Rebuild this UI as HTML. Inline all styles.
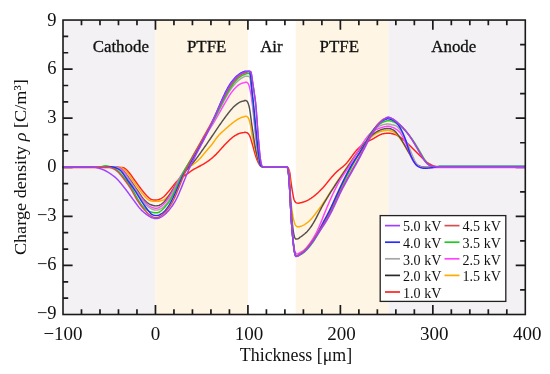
<!DOCTYPE html>
<html><head><meta charset="utf-8"><style>
html,body{margin:0;padding:0;background:#fff;}
svg{display:block;}
text{font-family:"Liberation Serif","DejaVu Serif",serif;fill:#111;}
.b{stroke:#111;stroke-width:0.3px;}
</style></head><body>
<svg width="550" height="374" viewBox="0 0 550 374">
<rect x="63.0" y="20.05" width="92.4" height="294.45" fill="#f3f1f3"/><rect x="155.4" y="20.05" width="92.69999999999999" height="294.45" fill="#fef5e4"/><rect x="248.1" y="20.05" width="47.70000000000002" height="294.45" fill="#ffffff"/><rect x="295.8" y="20.05" width="92.59999999999997" height="294.45" fill="#fef5e4"/><rect x="388.4" y="20.05" width="136.89999999999998" height="294.45" fill="#f3f1f3"/>
<g font-size="16.9" text-anchor="middle" class="b">
<text x="120.8" y="52">Cathode</text>
<text x="206.7" y="52">PTFE</text>
<text x="271.4" y="52">Air</text>
<text x="339.3" y="52">PTFE</text>
<text x="453.8" y="52">Anode</text>
</g>
<path d="M81.49,314.50L81.49,309.30M81.49,20.05L81.49,25.25M99.98,314.50L99.98,309.30M99.98,20.05L99.98,25.25M118.48,314.50L118.48,309.30M118.48,20.05L118.48,25.25M136.97,314.50L136.97,309.30M136.97,20.05L136.97,25.25M155.46,314.50L155.46,304.90M155.46,20.05L155.46,29.65M173.95,314.50L173.95,309.30M173.95,20.05L173.95,25.25M192.44,314.50L192.44,309.30M192.44,20.05L192.44,25.25M210.94,314.50L210.94,309.30M210.94,20.05L210.94,25.25M229.43,314.50L229.43,309.30M229.43,20.05L229.43,25.25M247.92,314.50L247.92,304.90M247.92,20.05L247.92,29.65M266.41,314.50L266.41,309.30M266.41,20.05L266.41,25.25M284.90,314.50L284.90,309.30M284.90,20.05L284.90,25.25M303.40,314.50L303.40,309.30M303.40,20.05L303.40,25.25M321.89,314.50L321.89,309.30M321.89,20.05L321.89,25.25M340.38,314.50L340.38,304.90M340.38,20.05L340.38,29.65M358.87,314.50L358.87,309.30M358.87,20.05L358.87,25.25M377.36,314.50L377.36,309.30M377.36,20.05L377.36,25.25M395.86,314.50L395.86,309.30M395.86,20.05L395.86,25.25M414.35,314.50L414.35,309.30M414.35,20.05L414.35,25.25M432.84,314.50L432.84,304.90M432.84,20.05L432.84,29.65M451.33,314.50L451.33,309.30M451.33,20.05L451.33,25.25M469.82,314.50L469.82,309.30M469.82,20.05L469.82,25.25M488.32,314.50L488.32,309.30M488.32,20.05L488.32,25.25M506.81,314.50L506.81,309.30M506.81,20.05L506.81,25.25M63.00,298.14L68.20,298.14M63.00,281.78L68.20,281.78M63.00,265.43L72.60,265.43M63.00,249.07L68.20,249.07M63.00,232.71L68.20,232.71M63.00,216.35L72.60,216.35M63.00,199.99L68.20,199.99M63.00,183.63L68.20,183.63M63.00,167.28L72.60,167.28M63.00,150.92L68.20,150.92M63.00,134.56L68.20,134.56M63.00,118.20L72.60,118.20M63.00,101.84L68.20,101.84M63.00,85.48L68.20,85.48M63.00,69.12L72.60,69.12M63.00,52.77L68.20,52.77M63.00,36.41L68.20,36.41M525.30,289.96L520.10,289.96M525.30,265.43L515.70,265.43M525.30,240.89L520.10,240.89M525.30,216.35L515.70,216.35M525.30,191.81L520.10,191.81M525.30,167.28L515.70,167.28M525.30,142.74L520.10,142.74M525.30,118.20L515.70,118.20M525.30,93.66L520.10,93.66M525.30,69.12L515.70,69.12M525.30,44.59L520.10,44.59" stroke="#1a1a1a" stroke-width="1.7" fill="none"/>
<g fill="none" stroke-width="1.45" stroke-linejoin="round" stroke-linecap="round">
<path d="M63.0,167.50 L63.5,167.50 L64.0,167.50 L64.5,167.50 L65.0,167.50 L65.5,167.50 L66.0,167.50 L66.5,167.50 L67.0,167.50 L67.5,167.50 L68.0,167.50 L68.5,167.50 L69.0,167.50 L69.5,167.50 L70.0,167.50 L70.5,167.50 L71.0,167.50 L71.5,167.50 L72.0,167.50 L72.5,167.50 L73.0,167.50 L73.5,167.50 L74.0,167.50 L74.5,167.50 L75.0,167.50 L75.5,167.50 L76.0,167.50 L76.5,167.50 L77.0,167.50 L77.5,167.50 L78.0,167.50 L78.5,167.50 L79.0,167.50 L79.5,167.50 L80.0,167.50 L80.5,167.50 L81.0,167.50 L81.5,167.50 L82.0,167.50 L82.5,167.50 L83.0,167.50 L83.5,167.50 L84.0,167.50 L84.5,167.50 L85.0,167.50 L85.5,167.50 L86.0,167.50 L86.5,167.50 L87.0,167.50 L87.5,167.50 L88.0,167.50 L88.5,167.50 L89.0,167.50 L89.5,167.50 L90.0,167.50 L90.5,167.50 L91.0,167.50 L91.5,167.50 L92.0,167.50 L92.5,167.50 L93.0,167.50 L93.5,167.50 L94.0,167.50 L94.5,167.50 L95.0,167.50 L95.5,167.50 L96.0,167.50 L96.5,167.50 L97.0,167.50 L97.5,167.50 L98.0,167.50 L98.5,167.50 L99.0,167.50 L99.5,167.50 L100.0,167.50 L100.5,167.50 L101.0,167.50 L101.5,167.50 L102.0,167.50 L102.5,167.50 L103.0,167.50 L103.5,167.50 L104.0,167.50 L104.5,167.50 L105.0,167.50 L105.5,167.50 L106.0,167.50 L106.5,167.50 L107.0,167.50 L107.5,167.50 L108.0,167.50 L108.5,167.50 L109.0,167.50 L109.5,167.50 L110.0,167.50 L110.5,167.50 L111.0,167.50 L111.5,167.50 L112.0,167.50 L112.5,167.50 L113.0,167.50 L113.5,167.50 L114.0,167.50 L114.5,167.50 L115.0,167.50 L115.5,167.50 L116.0,167.50 L116.5,167.50 L117.0,167.50 L117.5,167.50 L118.0,167.50 L118.5,167.50 L119.0,167.50 L119.5,167.50 L120.0,167.50 L120.5,167.50 L121.0,167.51 L121.5,167.51 L122.0,167.54 L122.5,167.58 L123.0,167.66 L123.5,167.79 L124.0,167.98 L124.5,168.24 L125.0,168.56 L125.5,168.94 L126.0,169.37 L126.5,169.83 L127.0,170.32 L127.5,170.82 L128.0,171.35 L128.5,171.90 L129.0,172.47 L129.5,173.07 L130.0,173.70 L130.5,174.35 L131.0,175.03 L131.5,175.73 L132.0,176.44 L132.5,177.15 L133.0,177.87 L133.5,178.58 L134.0,179.28 L134.5,179.98 L135.0,180.67 L135.5,181.36 L136.0,182.05 L136.5,182.74 L137.0,183.44 L137.5,184.13 L138.0,184.82 L138.5,185.51 L139.0,186.19 L139.5,186.87 L140.0,187.54 L140.5,188.21 L141.0,188.86 L141.5,189.51 L142.0,190.15 L142.5,190.78 L143.0,191.40 L143.5,192.01 L144.0,192.62 L144.5,193.21 L145.0,193.79 L145.5,194.36 L146.0,194.91 L146.5,195.45 L147.0,195.96 L147.5,196.46 L148.0,196.94 L148.5,197.40 L149.0,197.83 L149.5,198.23 L150.0,198.59 L150.5,199.07 L151.0,199.30 L151.5,199.48 L152.0,199.64 L152.5,199.78 L153.0,199.90 L153.5,199.97 L154.0,200.00 L154.5,200.00 L155.0,199.99 L155.5,199.97 L156.0,199.95 L156.5,199.93 L157.0,199.90 L157.5,199.86 L158.0,199.78 L158.5,199.69 L159.0,199.57 L159.5,199.44 L160.0,199.01 L160.5,198.79 L161.0,198.55 L161.5,198.28 L162.0,197.97 L162.5,197.63 L163.0,197.26 L163.5,196.86 L164.0,196.43 L164.5,195.97 L165.0,195.48 L165.5,194.97 L166.0,194.43 L166.5,193.88 L167.0,193.32 L167.5,192.74 L168.0,192.15 L168.5,191.56 L169.0,190.95 L169.5,190.35 L170.0,189.73 L170.5,189.11 L171.0,188.49 L171.5,187.86 L172.0,187.23 L172.5,186.60 L173.0,185.97 L173.5,185.34 L174.0,184.71 L174.5,184.09 L175.0,183.49 L175.5,182.89 L176.0,182.32 L176.5,181.77 L177.0,181.24 L177.5,180.74 L178.0,180.27 L178.5,179.82 L179.0,179.40 L179.5,179.00 L180.0,178.63 L180.5,178.27 L181.0,177.92 L181.5,177.59 L182.0,177.27 L182.5,176.95 L183.0,176.64 L183.5,176.33 L184.0,176.01 L184.5,175.70 L185.0,175.38 L185.5,175.05 L186.0,174.72 L186.5,174.38 L187.0,174.03 L187.5,173.67 L188.0,173.31 L188.5,172.95 L189.0,172.58 L189.5,172.22 L190.0,171.85 L190.5,171.49 L191.0,171.13 L191.5,170.78 L192.0,170.44 L192.5,170.11 L193.0,169.79 L193.5,169.48 L194.0,169.17 L194.5,168.88 L195.0,168.60 L195.5,168.32 L196.0,168.05 L196.5,167.79 L197.0,167.53 L197.5,167.27 L198.0,167.01 L198.5,166.76 L199.0,166.51 L199.5,166.25 L200.0,166.00 L200.5,165.74 L201.0,165.47 L201.5,165.21 L202.0,164.93 L202.5,164.65 L203.0,164.36 L203.5,164.07 L204.0,163.77 L204.5,163.47 L205.0,163.16 L205.5,162.84 L206.0,162.51 L206.5,162.18 L207.0,161.84 L207.5,161.50 L208.0,161.15 L208.5,160.79 L209.0,160.43 L209.5,160.05 L210.0,159.67 L210.5,159.29 L211.0,158.89 L211.5,158.48 L212.0,158.07 L212.5,157.65 L213.0,157.21 L213.5,156.77 L214.0,156.32 L214.5,155.85 L215.0,155.38 L215.5,154.89 L216.0,154.39 L216.5,153.88 L217.0,153.36 L217.5,152.82 L218.0,152.28 L218.5,151.73 L219.0,151.18 L219.5,150.62 L220.0,150.05 L220.5,149.49 L221.0,148.92 L221.5,148.36 L222.0,147.80 L222.5,147.24 L223.0,146.69 L223.5,146.15 L224.0,145.61 L224.5,145.08 L225.0,144.56 L225.5,144.04 L226.0,143.52 L226.5,143.01 L227.0,142.51 L227.5,142.00 L228.0,141.51 L228.5,141.02 L229.0,140.53 L229.5,140.06 L230.0,139.59 L230.5,139.13 L231.0,138.69 L231.5,138.25 L232.0,137.83 L232.5,137.43 L233.0,137.04 L233.5,136.67 L234.0,136.31 L234.5,135.97 L235.0,135.64 L235.5,135.33 L236.0,135.04 L236.5,134.76 L237.0,134.49 L237.5,134.25 L238.0,134.01 L238.5,133.79 L239.0,133.59 L239.5,133.41 L240.0,133.24 L240.5,133.10 L241.0,132.96 L241.5,132.85 L242.0,132.76 L242.5,132.68 L243.0,132.63 L243.5,132.60 L244.0,132.61 L244.5,132.31 L245.0,132.30 L245.5,132.34 L246.0,132.43 L246.5,132.58 L247.0,132.78 L247.5,133.00 L248.0,133.36 L248.5,133.93 L249.0,134.66 L249.5,135.50 L250.0,136.58 L250.5,137.99 L251.0,139.62 L251.5,141.33 L252.0,143.00 L252.5,144.68 L253.0,146.47 L253.5,148.34 L254.0,150.22 L254.5,152.07 L255.0,153.85 L255.5,155.51 L256.0,157.00 L256.5,158.38 L257.0,159.71 L257.5,160.98 L258.0,162.13 L258.5,163.15 L259.0,164.00 L259.5,164.74 L260.0,165.42 L260.5,165.97 L261.0,166.30 L261.5,166.49 L262.0,166.65 L262.5,166.76 L263.0,166.80 L263.5,166.80 L264.0,166.80 L264.5,166.80 L265.0,166.80 L265.5,166.80 L266.0,166.80 L266.5,166.80 L267.0,166.80 L267.5,166.80 L268.0,166.80 L268.5,166.80 L269.0,166.80 L269.5,166.80 L270.0,166.80 L270.5,166.80 L271.0,166.80 L271.5,166.80 L272.0,166.80 L272.5,166.80 L273.0,166.80 L273.5,166.80 L274.0,166.80 L274.5,166.80 L275.0,166.80 L275.5,166.80 L276.0,166.80 L276.5,166.80 L277.0,166.80 L277.5,166.80 L278.0,166.80 L278.5,166.80 L279.0,166.80 L279.5,166.80 L280.0,166.80 L280.5,166.80 L281.0,166.80 L281.5,166.80 L282.0,166.80 L282.5,166.80 L283.0,166.80 L283.5,166.80 L284.0,166.80 L284.5,166.80 L285.0,166.80 L285.5,166.80 L286.0,166.80 L286.5,166.80 L287.0,166.80 L287.5,167.04 L288.0,167.78 L288.5,168.66 L289.0,169.77 L289.5,171.31 L290.0,173.72 L290.5,178.31 L291.0,182.18 L291.5,185.64 L292.0,188.86 L292.5,191.86 L293.0,194.74 L293.5,197.55 L294.0,199.50 L294.5,200.63 L295.0,201.54 L295.5,202.20 L296.0,202.60 L296.5,202.84 L297.0,203.03 L297.5,203.15 L298.0,203.20 L298.5,203.18 L299.0,203.13 L299.5,203.07 L300.0,202.79 L300.5,202.74 L301.0,202.66 L301.5,202.57 L302.0,202.45 L302.5,202.32 L303.0,202.18 L303.5,202.02 L304.0,201.86 L304.5,201.67 L305.0,201.48 L305.5,201.28 L306.0,201.06 L306.5,200.83 L307.0,200.59 L307.5,200.34 L308.0,200.07 L308.5,199.80 L309.0,199.51 L309.5,199.22 L310.0,198.91 L310.5,198.59 L311.0,198.27 L311.5,197.93 L312.0,197.58 L312.5,197.23 L313.0,196.87 L313.5,196.49 L314.0,196.11 L314.5,195.72 L315.0,195.32 L315.5,194.91 L316.0,194.49 L316.5,194.06 L317.0,193.62 L317.5,193.18 L318.0,192.72 L318.5,192.26 L319.0,191.79 L319.5,191.31 L320.0,190.82 L320.5,190.32 L321.0,189.81 L321.5,189.29 L322.0,188.76 L322.5,188.22 L323.0,187.67 L323.5,187.11 L324.0,186.54 L324.5,185.95 L325.0,185.36 L325.5,184.75 L326.0,184.14 L326.5,183.51 L327.0,182.88 L327.5,182.25 L328.0,181.62 L328.5,180.99 L329.0,180.36 L329.5,179.74 L330.0,179.14 L330.5,178.54 L331.0,177.95 L331.5,177.37 L332.0,176.80 L332.5,176.24 L333.0,175.69 L333.5,175.15 L334.0,174.62 L334.5,174.09 L335.0,173.57 L335.5,173.06 L336.0,172.56 L336.5,172.07 L337.0,171.58 L337.5,171.11 L338.0,170.66 L338.5,170.21 L339.0,169.78 L339.5,169.36 L340.0,168.96 L340.5,168.56 L341.0,168.17 L341.5,167.78 L342.0,167.39 L342.5,167.00 L343.0,166.59 L343.5,166.17 L344.0,165.73 L344.5,165.27 L345.0,164.78 L345.5,164.28 L346.0,163.75 L346.5,163.19 L347.0,162.62 L347.5,162.02 L348.0,161.41 L348.5,160.78 L349.0,160.13 L349.5,159.47 L350.0,158.81 L350.5,158.13 L351.0,157.45 L351.5,156.77 L352.0,156.08 L352.5,155.39 L353.0,154.71 L353.5,154.04 L354.0,153.37 L354.5,152.72 L355.0,152.08 L355.5,151.47 L356.0,150.87 L356.5,150.30 L357.0,149.75 L357.5,149.23 L358.0,148.72 L358.5,148.24 L359.0,147.78 L359.5,147.33 L360.0,146.90 L360.5,146.49 L361.0,146.08 L361.5,145.69 L362.0,145.31 L362.5,144.93 L363.0,144.57 L363.5,144.21 L364.0,143.87 L364.5,143.53 L365.0,143.20 L365.5,142.88 L366.0,142.56 L366.5,142.26 L367.0,141.97 L367.5,141.68 L368.0,141.41 L368.5,141.15 L369.0,140.89 L369.5,140.64 L370.0,140.39 L370.5,140.15 L371.0,139.90 L371.5,139.65 L372.0,139.40 L372.5,139.13 L373.0,138.86 L373.5,138.58 L374.0,138.29 L374.5,137.99 L375.0,137.68 L375.5,137.36 L376.0,137.05 L376.5,136.73 L377.0,136.42 L377.5,136.12 L378.0,135.83 L378.5,135.55 L379.0,135.28 L379.5,135.03 L380.0,134.80 L380.5,134.58 L381.0,134.39 L381.5,134.21 L382.0,134.05 L382.5,133.91 L383.0,133.79 L383.5,133.68 L384.0,133.59 L384.5,133.51 L385.0,133.45 L385.5,133.40 L386.0,133.36 L386.5,133.24 L387.0,133.22 L387.5,133.21 L388.0,133.20 L388.5,133.21 L389.0,133.23 L389.5,133.27 L390.0,133.33 L390.5,133.40 L391.0,133.48 L391.5,133.57 L392.0,133.71 L392.5,133.81 L393.0,133.92 L393.5,134.05 L394.0,134.18 L394.5,134.32 L395.0,134.48 L395.5,134.66 L396.0,134.85 L396.5,135.06 L397.0,135.30 L397.5,135.55 L398.0,135.82 L398.5,136.11 L399.0,136.41 L399.5,136.73 L400.0,137.06 L400.5,137.40 L401.0,137.76 L401.5,138.13 L402.0,138.52 L402.5,138.92 L403.0,139.33 L403.5,139.76 L404.0,140.19 L404.5,140.64 L405.0,141.09 L405.5,141.54 L406.0,142.00 L406.5,142.46 L407.0,142.93 L407.5,143.39 L408.0,143.87 L408.5,144.34 L409.0,144.82 L409.5,145.31 L410.0,145.80 L410.5,146.29 L411.0,146.79 L411.5,147.29 L412.0,147.79 L412.5,148.29 L413.0,148.79 L413.5,149.30 L414.0,149.80 L414.5,150.30 L415.0,150.81 L415.5,151.32 L416.0,151.82 L416.5,152.33 L417.0,152.84 L417.5,153.35 L418.0,153.86 L418.5,154.36 L419.0,154.86 L419.5,155.36 L420.0,155.85 L420.5,156.34 L421.0,156.82 L421.5,157.30 L422.0,157.77 L422.5,158.25 L423.0,158.72 L423.5,159.18 L424.0,159.65 L424.5,160.10 L425.0,160.55 L425.5,160.99 L426.0,161.42 L426.5,161.82 L427.0,162.22 L427.5,162.59 L428.0,162.94 L428.5,163.28 L429.0,163.60 L429.5,163.90 L430.0,164.19 L430.5,164.47 L431.0,164.75 L431.5,165.00 L432.0,165.25 L432.5,165.48 L433.0,165.70 L433.5,165.89 L434.0,166.06 L434.5,166.21 L435.0,166.33 L435.5,166.43 L436.0,166.50 L436.5,166.56 L437.0,166.60 L437.5,166.64 L438.0,166.66 L438.5,166.68 L439.0,166.70 L439.5,166.72 L440.0,166.73 L440.5,166.74 L441.0,166.75 L441.5,166.76 L442.0,166.77 L442.5,166.78 L443.0,166.78 L443.5,166.79 L444.0,166.79 L444.5,166.80 L445.0,166.80 L445.5,166.80 L446.0,166.80 L446.5,166.80 L447.0,166.80 L447.5,166.80 L448.0,166.80 L448.5,166.80 L449.0,166.80 L449.5,166.80 L450.0,166.80 L450.5,166.80 L451.0,166.80 L451.5,166.80 L452.0,166.80 L452.5,166.80 L453.0,166.80 L453.5,166.80 L454.0,166.80 L454.5,166.80 L455.0,166.80 L455.5,166.80 L456.0,166.80 L456.5,166.80 L457.0,166.80 L457.5,166.80 L458.0,166.80 L458.5,166.80 L459.0,166.80 L459.5,166.80 L460.0,166.80 L460.5,166.80 L461.0,166.80 L461.5,166.80 L462.0,166.80 L462.5,166.80 L463.0,166.80 L463.5,166.80 L464.0,166.80 L464.5,166.80 L465.0,166.80 L465.5,166.80 L466.0,166.80 L466.5,166.80 L467.0,166.80 L467.5,166.80 L468.0,166.80 L468.5,166.80 L469.0,166.80 L469.5,166.80 L470.0,166.80 L470.5,166.80 L471.0,166.80 L471.5,166.80 L472.0,166.80 L472.5,166.80 L473.0,166.80 L473.5,166.80 L474.0,166.80 L474.5,166.80 L475.0,166.80 L475.5,166.80 L476.0,166.80 L476.5,166.80 L477.0,166.80 L477.5,166.80 L478.0,166.80 L478.5,166.80 L479.0,166.80 L479.5,166.80 L480.0,166.80 L480.5,166.80 L481.0,166.80 L481.5,166.80 L482.0,166.80 L482.5,166.80 L483.0,166.80 L483.5,166.80 L484.0,166.80 L484.5,166.80 L485.0,166.80 L485.5,166.80 L486.0,166.80 L486.5,166.80 L487.0,166.80 L487.5,166.80 L488.0,166.80 L488.5,166.80 L489.0,166.80 L489.5,166.80 L490.0,166.80 L490.5,166.80 L491.0,166.80 L491.5,166.80 L492.0,166.80 L492.5,166.80 L493.0,166.80 L493.5,166.80 L494.0,166.80 L494.5,166.80 L495.0,166.80 L495.5,166.80 L496.0,166.80 L496.5,166.80 L497.0,166.80 L497.5,166.80 L498.0,166.80 L498.5,166.80 L499.0,166.80 L499.5,166.80 L500.0,166.80 L500.5,166.80 L501.0,166.80 L501.5,166.80 L502.0,166.80 L502.5,166.80 L503.0,166.80 L503.5,166.80 L504.0,166.80 L504.5,166.80 L505.0,166.80 L505.5,166.80 L506.0,166.80 L506.5,166.80 L507.0,166.80 L507.5,166.80 L508.0,166.80 L508.5,166.80 L509.0,166.80 L509.5,166.80 L510.0,166.80 L510.5,166.80 L511.0,166.80 L511.5,166.80 L512.0,166.80 L512.5,166.80 L513.0,166.80 L513.5,166.80 L514.0,166.80 L514.5,166.80 L515.0,166.80 L515.5,166.80 L516.0,166.80 L516.5,166.80 L517.0,166.80 L517.5,166.80 L518.0,166.80 L518.5,166.80 L519.0,166.80 L519.5,166.80 L520.0,166.80 L520.5,166.80 L521.0,166.80 L521.5,166.80 L522.0,166.80 L522.5,166.80 L523.0,166.80 L523.5,166.80 L524.0,166.80 L524.5,166.80 L525.0,166.80" stroke="#ff2020"/><path d="M63.0,166.80 L63.5,166.80 L64.0,166.80 L64.5,166.80 L65.0,166.80 L65.5,166.80 L66.0,166.80 L66.5,166.80 L67.0,166.80 L67.5,166.80 L68.0,166.80 L68.5,166.80 L69.0,166.80 L69.5,166.80 L70.0,166.80 L70.5,166.80 L71.0,166.80 L71.5,166.80 L72.0,166.80 L72.5,166.80 L73.0,166.80 L73.5,166.80 L74.0,166.80 L74.5,166.80 L75.0,166.80 L75.5,166.80 L76.0,166.80 L76.5,166.80 L77.0,166.80 L77.5,166.80 L78.0,166.80 L78.5,166.80 L79.0,166.80 L79.5,166.80 L80.0,166.80 L80.5,166.80 L81.0,166.80 L81.5,166.80 L82.0,166.80 L82.5,166.80 L83.0,166.80 L83.5,166.80 L84.0,166.80 L84.5,166.80 L85.0,166.80 L85.5,166.80 L86.0,166.80 L86.5,166.80 L87.0,166.80 L87.5,166.80 L88.0,166.80 L88.5,166.80 L89.0,166.80 L89.5,166.80 L90.0,166.80 L90.5,166.80 L91.0,166.80 L91.5,166.80 L92.0,166.80 L92.5,166.80 L93.0,166.80 L93.5,166.80 L94.0,166.80 L94.5,166.80 L95.0,166.80 L95.5,166.80 L96.0,166.80 L96.5,166.80 L97.0,166.80 L97.5,166.80 L98.0,166.80 L98.5,166.80 L99.0,166.80 L99.5,166.80 L100.0,166.80 L100.5,166.80 L101.0,166.80 L101.5,166.80 L102.0,166.80 L102.5,166.80 L103.0,166.80 L103.5,166.80 L104.0,166.80 L104.5,166.80 L105.0,166.80 L105.5,166.80 L106.0,166.80 L106.5,166.80 L107.0,166.80 L107.5,166.80 L108.0,166.80 L108.5,166.80 L109.0,166.80 L109.5,166.80 L110.0,166.80 L110.5,166.80 L111.0,166.80 L111.5,166.80 L112.0,166.80 L112.5,166.80 L113.0,166.80 L113.5,166.80 L114.0,166.80 L114.5,166.80 L115.0,166.80 L115.5,166.80 L116.0,166.81 L116.5,166.82 L117.0,166.84 L117.5,166.87 L118.0,166.92 L118.5,166.98 L119.0,167.06 L119.5,167.16 L120.0,167.28 L120.5,167.42 L121.0,167.59 L121.5,167.79 L122.0,168.02 L122.5,168.29 L123.0,168.60 L123.5,168.94 L124.0,169.32 L124.5,169.72 L125.0,170.15 L125.5,170.61 L126.0,171.10 L126.5,171.62 L127.0,172.18 L127.5,172.79 L128.0,173.43 L128.5,174.10 L129.0,174.81 L129.5,175.53 L130.0,176.27 L130.5,177.02 L131.0,177.77 L131.5,178.51 L132.0,179.25 L132.5,179.97 L133.0,180.69 L133.5,181.41 L134.0,182.12 L134.5,182.83 L135.0,183.54 L135.5,184.25 L136.0,184.96 L136.5,185.67 L137.0,186.38 L137.5,187.08 L138.0,187.77 L138.5,188.46 L139.0,189.14 L139.5,189.81 L140.0,190.48 L140.5,191.13 L141.0,191.78 L141.5,192.42 L142.0,193.06 L142.5,193.68 L143.0,194.29 L143.5,194.90 L144.0,195.50 L144.5,196.09 L145.0,196.67 L145.5,197.23 L146.0,197.77 L146.5,198.27 L147.0,198.73 L147.5,199.13 L148.0,199.48 L148.5,199.79 L149.0,200.05 L149.5,200.29 L150.0,200.49 L150.5,200.75 L151.0,200.90 L151.5,201.02 L152.0,201.10 L152.5,201.16 L153.0,201.22 L153.5,201.27 L154.0,201.31 L154.5,201.35 L155.0,201.38 L155.5,201.39 L156.0,201.40 L156.5,201.39 L157.0,201.38 L157.5,201.35 L158.0,201.31 L158.5,201.26 L159.0,201.21 L159.5,201.16 L160.0,200.98 L160.5,200.88 L161.0,200.77 L161.5,200.64 L162.0,200.48 L162.5,200.30 L163.0,200.09 L163.5,199.85 L164.0,199.58 L164.5,199.27 L165.0,198.92 L165.5,198.53 L166.0,198.11 L166.5,197.65 L167.0,197.15 L167.5,196.62 L168.0,196.06 L168.5,195.47 L169.0,194.86 L169.5,194.22 L170.0,193.55 L170.5,192.86 L171.0,192.15 L171.5,191.42 L172.0,190.66 L172.5,189.88 L173.0,189.09 L173.5,188.27 L174.0,187.44 L174.5,186.60 L175.0,185.76 L175.5,184.90 L176.0,184.05 L176.5,183.20 L177.0,182.36 L177.5,181.54 L178.0,180.73 L178.5,179.93 L179.0,179.16 L179.5,178.41 L180.0,177.67 L180.5,176.96 L181.0,176.26 L181.5,175.59 L182.0,174.93 L182.5,174.30 L183.0,173.68 L183.5,173.08 L184.0,172.50 L184.5,171.94 L185.0,171.39 L185.5,170.86 L186.0,170.35 L186.5,169.85 L187.0,169.37 L187.5,168.91 L188.0,168.46 L188.5,168.02 L189.0,167.60 L189.5,167.19 L190.0,166.78 L190.5,166.39 L191.0,166.01 L191.5,165.62 L192.0,165.25 L192.5,164.87 L193.0,164.50 L193.5,164.13 L194.0,163.75 L194.5,163.38 L195.0,163.00 L195.5,162.61 L196.0,162.22 L196.5,161.81 L197.0,161.39 L197.5,160.96 L198.0,160.52 L198.5,160.05 L199.0,159.56 L199.5,159.06 L200.0,158.53 L200.5,157.98 L201.0,157.42 L201.5,156.84 L202.0,156.24 L202.5,155.63 L203.0,155.02 L203.5,154.40 L204.0,153.78 L204.5,153.16 L205.0,152.55 L205.5,151.94 L206.0,151.34 L206.5,150.75 L207.0,150.17 L207.5,149.60 L208.0,149.04 L208.5,148.47 L209.0,147.91 L209.5,147.35 L210.0,146.77 L210.5,146.19 L211.0,145.59 L211.5,144.97 L212.0,144.33 L212.5,143.67 L213.0,142.99 L213.5,142.30 L214.0,141.59 L214.5,140.87 L215.0,140.16 L215.5,139.45 L216.0,138.75 L216.5,138.08 L217.0,137.42 L217.5,136.80 L218.0,136.20 L218.5,135.62 L219.0,135.08 L219.5,134.55 L220.0,134.04 L220.5,133.55 L221.0,133.08 L221.5,132.61 L222.0,132.16 L222.5,131.70 L223.0,131.26 L223.5,130.81 L224.0,130.36 L224.5,129.92 L225.0,129.47 L225.5,129.02 L226.0,128.58 L226.5,128.13 L227.0,127.68 L227.5,127.23 L228.0,126.79 L228.5,126.35 L229.0,125.92 L229.5,125.48 L230.0,125.06 L230.5,124.64 L231.0,124.22 L231.5,123.82 L232.0,123.42 L232.5,123.02 L233.0,122.63 L233.5,122.25 L234.0,121.88 L234.5,121.51 L235.0,121.15 L235.5,120.80 L236.0,120.46 L236.5,120.12 L237.0,119.79 L237.5,119.48 L238.0,119.17 L238.5,118.88 L239.0,118.61 L239.5,118.34 L240.0,118.10 L240.5,117.87 L241.0,117.66 L241.5,117.47 L242.0,117.30 L242.5,117.16 L243.0,117.03 L243.5,116.95 L244.0,116.90 L244.5,116.45 L245.0,116.37 L245.5,116.32 L246.0,116.30 L246.5,116.40 L247.0,116.65 L247.5,117.04 L248.0,117.50 L248.5,118.28 L249.0,119.55 L249.5,121.17 L250.0,123.00 L250.5,125.45 L251.0,128.64 L251.5,132.01 L252.0,135.00 L252.5,137.57 L253.0,140.04 L253.5,142.42 L254.0,144.71 L254.5,146.91 L255.0,149.03 L255.5,151.06 L256.0,153.00 L256.5,154.91 L257.0,156.80 L257.5,158.62 L258.0,160.29 L258.5,161.77 L259.0,163.00 L259.5,164.08 L260.0,165.08 L260.5,165.86 L261.0,166.30 L261.5,166.50 L262.0,166.66 L262.5,166.76 L263.0,166.80 L263.5,166.80 L264.0,166.80 L264.5,166.80 L265.0,166.80 L265.5,166.80 L266.0,166.80 L266.5,166.80 L267.0,166.80 L267.5,166.80 L268.0,166.80 L268.5,166.80 L269.0,166.80 L269.5,166.80 L270.0,166.80 L270.5,166.80 L271.0,166.80 L271.5,166.80 L272.0,166.80 L272.5,166.80 L273.0,166.80 L273.5,166.80 L274.0,166.80 L274.5,166.80 L275.0,166.80 L275.5,166.80 L276.0,166.80 L276.5,166.80 L277.0,166.80 L277.5,166.80 L278.0,166.80 L278.5,166.80 L279.0,166.80 L279.5,166.80 L280.0,166.80 L280.5,166.80 L281.0,166.80 L281.5,166.80 L282.0,166.80 L282.5,166.80 L283.0,166.80 L283.5,166.80 L284.0,166.80 L284.5,166.80 L285.0,166.80 L285.5,166.80 L286.0,166.80 L286.5,166.80 L287.0,166.80 L287.5,167.12 L288.0,168.17 L288.5,169.70 L289.0,172.50 L289.5,176.76 L290.0,183.58 L290.5,195.00 L291.0,201.26 L291.5,206.10 L292.0,210.00 L292.5,213.40 L293.0,216.39 L293.5,218.93 L294.0,221.00 L294.5,222.76 L295.0,224.23 L295.5,225.20 L296.0,225.81 L296.5,226.32 L297.0,226.67 L297.5,226.80 L298.0,226.80 L298.5,226.80 L299.0,226.80 L299.5,226.80 L300.0,226.38 L300.5,226.32 L301.0,226.21 L301.5,226.06 L302.0,225.88 L302.5,225.66 L303.0,225.42 L303.5,225.16 L304.0,224.88 L304.5,224.58 L305.0,224.26 L305.5,223.93 L306.0,223.58 L306.5,223.22 L307.0,222.85 L307.5,222.46 L308.0,222.06 L308.5,221.64 L309.0,221.20 L309.5,220.73 L310.0,220.25 L310.5,219.75 L311.0,219.22 L311.5,218.68 L312.0,218.11 L312.5,217.52 L313.0,216.91 L313.5,216.29 L314.0,215.65 L314.5,215.00 L315.0,214.35 L315.5,213.69 L316.0,213.03 L316.5,212.37 L317.0,211.71 L317.5,211.04 L318.0,210.38 L318.5,209.71 L319.0,209.04 L319.5,208.37 L320.0,207.69 L320.5,207.00 L321.0,206.31 L321.5,205.60 L322.0,204.89 L322.5,204.17 L323.0,203.44 L323.5,202.71 L324.0,201.96 L324.5,201.21 L325.0,200.45 L325.5,199.69 L326.0,198.92 L326.5,198.15 L327.0,197.37 L327.5,196.60 L328.0,195.82 L328.5,195.04 L329.0,194.26 L329.5,193.48 L330.0,192.70 L330.5,191.92 L331.0,191.15 L331.5,190.38 L332.0,189.61 L332.5,188.84 L333.0,188.07 L333.5,187.31 L334.0,186.55 L334.5,185.79 L335.0,185.03 L335.5,184.27 L336.0,183.52 L336.5,182.76 L337.0,182.01 L337.5,181.25 L338.0,180.50 L338.5,179.75 L339.0,179.00 L339.5,178.25 L340.0,177.49 L340.5,176.74 L341.0,175.99 L341.5,175.25 L342.0,174.50 L342.5,173.76 L343.0,173.01 L343.5,172.27 L344.0,171.53 L344.5,170.80 L345.0,170.06 L345.5,169.33 L346.0,168.60 L346.5,167.88 L347.0,167.16 L347.5,166.44 L348.0,165.72 L348.5,165.00 L349.0,164.28 L349.5,163.56 L350.0,162.85 L350.5,162.13 L351.0,161.41 L351.5,160.68 L352.0,159.96 L352.5,159.23 L353.0,158.50 L353.5,157.77 L354.0,157.03 L354.5,156.30 L355.0,155.58 L355.5,154.85 L356.0,154.14 L356.5,153.43 L357.0,152.73 L357.5,152.04 L358.0,151.37 L358.5,150.70 L359.0,150.05 L359.5,149.41 L360.0,148.78 L360.5,148.17 L361.0,147.56 L361.5,146.97 L362.0,146.38 L362.5,145.81 L363.0,145.24 L363.5,144.69 L364.0,144.14 L364.5,143.61 L365.0,143.08 L365.5,142.56 L366.0,142.05 L366.5,141.55 L367.0,141.05 L367.5,140.57 L368.0,140.09 L368.5,139.62 L369.0,139.16 L369.5,138.70 L370.0,138.26 L370.5,137.82 L371.0,137.40 L371.5,136.98 L372.0,136.57 L372.5,136.17 L373.0,135.78 L373.5,135.40 L374.0,135.03 L374.5,134.67 L375.0,134.32 L375.5,133.99 L376.0,133.67 L376.5,133.37 L377.0,133.09 L377.5,132.83 L378.0,132.58 L378.5,132.34 L379.0,132.13 L379.5,131.93 L380.0,131.74 L380.5,131.57 L381.0,131.41 L381.5,131.27 L382.0,131.13 L382.5,131.01 L383.0,130.91 L383.5,130.81 L384.0,130.72 L384.5,130.65 L385.0,130.59 L385.5,130.54 L386.0,130.50 L386.5,130.33 L387.0,130.31 L387.5,130.30 L388.0,130.31 L388.5,130.35 L389.0,130.42 L389.5,130.50 L390.0,130.60 L390.5,130.72 L391.0,130.86 L391.5,131.01 L392.0,131.24 L392.5,131.43 L393.0,131.66 L393.5,131.91 L394.0,132.20 L394.5,132.54 L395.0,132.91 L395.5,133.33 L396.0,133.78 L396.5,134.28 L397.0,134.80 L397.5,135.35 L398.0,135.92 L398.5,136.51 L399.0,137.13 L399.5,137.76 L400.0,138.41 L400.5,139.09 L401.0,139.80 L401.5,140.53 L402.0,141.29 L402.5,142.08 L403.0,142.90 L403.5,143.73 L404.0,144.57 L404.5,145.42 L405.0,146.28 L405.5,147.15 L406.0,148.01 L406.5,148.88 L407.0,149.75 L407.5,150.63 L408.0,151.50 L408.5,152.37 L409.0,153.23 L409.5,154.09 L410.0,154.94 L410.5,155.78 L411.0,156.61 L411.5,157.43 L412.0,158.24 L412.5,159.04 L413.0,159.83 L413.5,160.59 L414.0,161.33 L414.5,162.02 L415.0,162.65 L415.5,163.24 L416.0,163.76 L416.5,164.23 L417.0,164.64 L417.5,165.00 L418.0,165.32 L418.5,165.61 L419.0,165.87 L419.5,166.11 L420.0,166.33 L420.5,166.53 L421.0,166.71 L421.5,166.87 L422.0,167.00 L422.5,167.12 L423.0,167.20 L423.5,167.27 L424.0,167.31 L424.5,167.34 L425.0,167.36 L425.5,167.36 L426.0,167.36 L426.5,167.35 L427.0,167.34 L427.5,167.32 L428.0,167.31 L428.5,167.29 L429.0,167.28 L429.5,167.26 L430.0,167.25 L430.5,167.24 L431.0,167.22 L431.5,167.21 L432.0,167.21 L432.5,167.20 L433.0,167.19 L433.5,167.19 L434.0,167.18 L434.5,167.18 L435.0,167.17 L435.5,167.17 L436.0,167.16 L436.5,167.16 L437.0,167.16 L437.5,167.15 L438.0,167.15 L438.5,167.14 L439.0,167.14 L439.5,167.13 L440.0,167.13 L440.5,167.13 L441.0,167.12 L441.5,167.12 L442.0,167.11 L442.5,167.11 L443.0,167.11 L443.5,167.10 L444.0,167.10 L444.5,167.09 L445.0,167.09 L445.5,167.09 L446.0,167.08 L446.5,167.08 L447.0,167.08 L447.5,167.07 L448.0,167.07 L448.5,167.06 L449.0,167.06 L449.5,167.06 L450.0,167.05 L450.5,167.05 L451.0,167.05 L451.5,167.04 L452.0,167.04 L452.5,167.04 L453.0,167.03 L453.5,167.03 L454.0,167.03 L454.5,167.02 L455.0,167.02 L455.5,167.02 L456.0,167.01 L456.5,167.01 L457.0,167.01 L457.5,167.00 L458.0,167.00 L458.5,167.00 L459.0,166.99 L459.5,166.99 L460.0,166.99 L460.5,166.98 L461.0,166.98 L461.5,166.98 L462.0,166.98 L462.5,166.97 L463.0,166.97 L463.5,166.97 L464.0,166.96 L464.5,166.96 L465.0,166.96 L465.5,166.96 L466.0,166.95 L466.5,166.95 L467.0,166.95 L467.5,166.95 L468.0,166.94 L468.5,166.94 L469.0,166.94 L469.5,166.94 L470.0,166.93 L470.5,166.93 L471.0,166.93 L471.5,166.93 L472.0,166.92 L472.5,166.92 L473.0,166.92 L473.5,166.92 L474.0,166.91 L474.5,166.91 L475.0,166.91 L475.5,166.91 L476.0,166.90 L476.5,166.90 L477.0,166.90 L477.5,166.90 L478.0,166.90 L478.5,166.89 L479.0,166.89 L479.5,166.89 L480.0,166.89 L480.5,166.89 L481.0,166.88 L481.5,166.88 L482.0,166.88 L482.5,166.88 L483.0,166.88 L483.5,166.87 L484.0,166.87 L484.5,166.87 L485.0,166.87 L485.5,166.87 L486.0,166.87 L486.5,166.86 L487.0,166.86 L487.5,166.86 L488.0,166.86 L488.5,166.86 L489.0,166.86 L489.5,166.85 L490.0,166.85 L490.5,166.85 L491.0,166.85 L491.5,166.85 L492.0,166.85 L492.5,166.85 L493.0,166.84 L493.5,166.84 L494.0,166.84 L494.5,166.84 L495.0,166.84 L495.5,166.84 L496.0,166.84 L496.5,166.83 L497.0,166.83 L497.5,166.83 L498.0,166.83 L498.5,166.83 L499.0,166.83 L499.5,166.83 L500.0,166.83 L500.5,166.83 L501.0,166.82 L501.5,166.82 L502.0,166.82 L502.5,166.82 L503.0,166.82 L503.5,166.82 L504.0,166.82 L504.5,166.82 L505.0,166.82 L505.5,166.82 L506.0,166.82 L506.5,166.81 L507.0,166.81 L507.5,166.81 L508.0,166.81 L508.5,166.81 L509.0,166.81 L509.5,166.81 L510.0,166.81 L510.5,166.81 L511.0,166.81 L511.5,166.81 L512.0,166.81 L512.5,166.81 L513.0,166.81 L513.5,166.81 L514.0,166.81 L514.5,166.80 L515.0,166.80 L515.5,166.80 L516.0,166.80 L516.5,166.80 L517.0,166.80 L517.5,166.80 L518.0,166.80 L518.5,166.80 L519.0,166.80 L519.5,166.80 L520.0,166.80 L520.5,166.80 L521.0,166.80 L521.5,166.80 L522.0,166.80 L522.5,166.80 L523.0,166.80 L523.5,166.80 L524.0,166.80 L524.5,166.80 L525.0,166.80" stroke="#ffaa00"/><path d="M63.0,166.80 L63.5,166.80 L64.0,166.80 L64.5,166.80 L65.0,166.80 L65.5,166.80 L66.0,166.80 L66.5,166.80 L67.0,166.80 L67.5,166.80 L68.0,166.80 L68.5,166.80 L69.0,166.80 L69.5,166.80 L70.0,166.80 L70.5,166.80 L71.0,166.80 L71.5,166.80 L72.0,166.80 L72.5,166.80 L73.0,166.80 L73.5,166.80 L74.0,166.80 L74.5,166.80 L75.0,166.80 L75.5,166.80 L76.0,166.80 L76.5,166.80 L77.0,166.80 L77.5,166.80 L78.0,166.80 L78.5,166.80 L79.0,166.80 L79.5,166.80 L80.0,166.80 L80.5,166.80 L81.0,166.80 L81.5,166.80 L82.0,166.80 L82.5,166.80 L83.0,166.80 L83.5,166.80 L84.0,166.80 L84.5,166.80 L85.0,166.80 L85.5,166.80 L86.0,166.80 L86.5,166.80 L87.0,166.80 L87.5,166.80 L88.0,166.80 L88.5,166.80 L89.0,166.80 L89.5,166.80 L90.0,166.80 L90.5,166.80 L91.0,166.80 L91.5,166.80 L92.0,166.80 L92.5,166.80 L93.0,166.80 L93.5,166.80 L94.0,166.80 L94.5,166.80 L95.0,166.80 L95.5,166.80 L96.0,166.80 L96.5,166.80 L97.0,166.80 L97.5,166.80 L98.0,166.80 L98.5,166.80 L99.0,166.80 L99.5,166.80 L100.0,166.80 L100.5,166.80 L101.0,166.80 L101.5,166.80 L102.0,166.80 L102.5,166.80 L103.0,166.80 L103.5,166.80 L104.0,166.80 L104.5,166.80 L105.0,166.80 L105.5,166.80 L106.0,166.80 L106.5,166.80 L107.0,166.80 L107.5,166.80 L108.0,166.80 L108.5,166.80 L109.0,166.80 L109.5,166.80 L110.0,166.80 L110.5,166.80 L111.0,166.80 L111.5,166.80 L112.0,166.80 L112.5,166.80 L113.0,166.80 L113.5,166.80 L114.0,166.81 L114.5,166.82 L115.0,166.84 L115.5,166.88 L116.0,166.93 L116.5,167.01 L117.0,167.10 L117.5,167.22 L118.0,167.35 L118.5,167.51 L119.0,167.70 L119.5,167.93 L120.0,168.19 L120.5,168.50 L121.0,168.84 L121.5,169.23 L122.0,169.65 L122.5,170.09 L123.0,170.56 L123.5,171.06 L124.0,171.57 L124.5,172.11 L125.0,172.68 L125.5,173.28 L126.0,173.91 L126.5,174.57 L127.0,175.25 L127.5,175.95 L128.0,176.67 L128.5,177.39 L129.0,178.12 L129.5,178.85 L130.0,179.57 L130.5,180.29 L131.0,181.01 L131.5,181.73 L132.0,182.46 L132.5,183.18 L133.0,183.91 L133.5,184.65 L134.0,185.38 L134.5,186.12 L135.0,186.85 L135.5,187.59 L136.0,188.32 L136.5,189.05 L137.0,189.78 L137.5,190.52 L138.0,191.26 L138.5,192.00 L139.0,192.75 L139.5,193.50 L140.0,194.26 L140.5,195.00 L141.0,195.74 L141.5,196.46 L142.0,197.15 L142.5,197.81 L143.0,198.44 L143.5,199.03 L144.0,199.59 L144.5,200.12 L145.0,200.62 L145.5,201.09 L146.0,201.54 L146.5,201.98 L147.0,202.39 L147.5,202.78 L148.0,203.14 L148.5,203.48 L149.0,203.79 L149.5,204.06 L150.0,204.31 L150.5,204.60 L151.0,204.78 L151.5,204.95 L152.0,205.12 L152.5,205.28 L153.0,205.43 L153.5,205.56 L154.0,205.67 L154.5,205.77 L155.0,205.84 L155.5,205.88 L156.0,205.90 L156.5,205.89 L157.0,205.84 L157.5,205.78 L158.0,205.69 L158.5,205.59 L159.0,205.47 L159.5,205.34 L160.0,204.83 L160.5,204.59 L161.0,204.31 L161.5,204.00 L162.0,203.65 L162.5,203.26 L163.0,202.84 L163.5,202.38 L164.0,201.90 L164.5,201.38 L165.0,200.84 L165.5,200.28 L166.0,199.68 L166.5,199.07 L167.0,198.43 L167.5,197.77 L168.0,197.08 L168.5,196.38 L169.0,195.65 L169.5,194.90 L170.0,194.14 L170.5,193.36 L171.0,192.56 L171.5,191.76 L172.0,190.94 L172.5,190.11 L173.0,189.27 L173.5,188.43 L174.0,187.58 L174.5,186.74 L175.0,185.89 L175.5,185.04 L176.0,184.20 L176.5,183.37 L177.0,182.54 L177.5,181.73 L178.0,180.92 L178.5,180.13 L179.0,179.35 L179.5,178.59 L180.0,177.85 L180.5,177.13 L181.0,176.43 L181.5,175.76 L182.0,175.10 L182.5,174.47 L183.0,173.86 L183.5,173.26 L184.0,172.69 L184.5,172.13 L185.0,171.57 L185.5,171.03 L186.0,170.49 L186.5,169.95 L187.0,169.41 L187.5,168.87 L188.0,168.32 L188.5,167.77 L189.0,167.22 L189.5,166.67 L190.0,166.11 L190.5,165.54 L191.0,164.98 L191.5,164.41 L192.0,163.84 L192.5,163.26 L193.0,162.67 L193.5,162.08 L194.0,161.48 L194.5,160.87 L195.0,160.25 L195.5,159.62 L196.0,158.98 L196.5,158.33 L197.0,157.67 L197.5,157.00 L198.0,156.32 L198.5,155.63 L199.0,154.94 L199.5,154.25 L200.0,153.55 L200.5,152.85 L201.0,152.15 L201.5,151.45 L202.0,150.74 L202.5,150.04 L203.0,149.33 L203.5,148.62 L204.0,147.91 L204.5,147.20 L205.0,146.48 L205.5,145.77 L206.0,145.05 L206.5,144.33 L207.0,143.61 L207.5,142.89 L208.0,142.16 L208.5,141.43 L209.0,140.70 L209.5,139.97 L210.0,139.23 L210.5,138.49 L211.0,137.75 L211.5,137.01 L212.0,136.27 L212.5,135.53 L213.0,134.78 L213.5,134.04 L214.0,133.30 L214.5,132.56 L215.0,131.82 L215.5,131.08 L216.0,130.34 L216.5,129.60 L217.0,128.86 L217.5,128.13 L218.0,127.40 L218.5,126.67 L219.0,125.94 L219.5,125.21 L220.0,124.49 L220.5,123.77 L221.0,123.06 L221.5,122.35 L222.0,121.65 L222.5,120.95 L223.0,120.25 L223.5,119.57 L224.0,118.88 L224.5,118.20 L225.0,117.53 L225.5,116.86 L226.0,116.19 L226.5,115.53 L227.0,114.87 L227.5,114.21 L228.0,113.56 L228.5,112.92 L229.0,112.28 L229.5,111.65 L230.0,111.03 L230.5,110.42 L231.0,109.83 L231.5,109.24 L232.0,108.68 L232.5,108.13 L233.0,107.60 L233.5,107.09 L234.0,106.60 L234.5,106.13 L235.0,105.67 L235.5,105.24 L236.0,104.82 L236.5,104.42 L237.0,104.04 L237.5,103.68 L238.0,103.33 L238.5,103.01 L239.0,102.70 L239.5,102.42 L240.0,102.16 L240.5,101.91 L241.0,101.70 L241.5,101.50 L242.0,101.34 L242.5,101.20 L243.0,101.11 L243.5,101.06 L244.0,101.08 L244.5,100.46 L245.0,100.41 L245.5,100.41 L246.0,100.56 L246.5,100.84 L247.0,101.20 L247.5,101.85 L248.0,102.94 L248.5,104.36 L249.0,106.00 L249.5,108.22 L250.0,111.27 L250.5,114.86 L251.0,118.70 L251.5,122.51 L252.0,126.00 L252.5,129.29 L253.0,132.66 L253.5,136.04 L254.0,139.38 L254.5,142.61 L255.0,145.66 L255.5,148.48 L256.0,151.00 L256.5,153.31 L257.0,155.53 L257.5,157.60 L258.0,159.48 L258.5,161.13 L259.0,162.50 L259.5,163.72 L260.0,164.83 L260.5,165.71 L261.0,166.20 L261.5,166.44 L262.0,166.63 L262.5,166.75 L263.0,166.80 L263.5,166.80 L264.0,166.80 L264.5,166.80 L265.0,166.80 L265.5,166.80 L266.0,166.80 L266.5,166.80 L267.0,166.80 L267.5,166.80 L268.0,166.80 L268.5,166.80 L269.0,166.80 L269.5,166.80 L270.0,166.80 L270.5,166.80 L271.0,166.80 L271.5,166.80 L272.0,166.80 L272.5,166.80 L273.0,166.80 L273.5,166.80 L274.0,166.80 L274.5,166.80 L275.0,166.80 L275.5,166.80 L276.0,166.80 L276.5,166.80 L277.0,166.80 L277.5,166.80 L278.0,166.80 L278.5,166.80 L279.0,166.80 L279.5,166.80 L280.0,166.80 L280.5,166.80 L281.0,166.80 L281.5,166.80 L282.0,166.80 L282.5,166.80 L283.0,166.80 L283.5,166.80 L284.0,166.80 L284.5,166.80 L285.0,166.80 L285.5,166.80 L286.0,166.80 L286.5,166.80 L287.0,166.80 L287.5,167.42 L288.0,169.46 L288.5,172.34 L289.0,177.43 L289.5,183.55 L290.0,190.96 L290.5,198.45 L291.0,205.82 L291.5,212.75 L292.0,218.89 L292.5,224.56 L293.0,229.00 L293.5,232.29 L294.0,234.87 L294.5,236.64 L295.0,238.10 L295.5,239.01 L296.0,239.09 L296.5,239.04 L297.0,238.95 L297.5,238.83 L298.0,238.70 L298.5,238.51 L299.0,238.22 L299.5,237.87 L300.0,237.24 L300.5,236.95 L301.0,236.63 L301.5,236.29 L302.0,235.93 L302.5,235.57 L303.0,235.19 L303.5,234.79 L304.0,234.39 L304.5,233.98 L305.0,233.55 L305.5,233.10 L306.0,232.64 L306.5,232.16 L307.0,231.65 L307.5,231.13 L308.0,230.57 L308.5,230.00 L309.0,229.39 L309.5,228.77 L310.0,228.11 L310.5,227.43 L311.0,226.72 L311.5,225.99 L312.0,225.23 L312.5,224.44 L313.0,223.63 L313.5,222.79 L314.0,221.94 L314.5,221.05 L315.0,220.15 L315.5,219.23 L316.0,218.30 L316.5,217.35 L317.0,216.39 L317.5,215.42 L318.0,214.44 L318.5,213.46 L319.0,212.48 L319.5,211.50 L320.0,210.52 L320.5,209.56 L321.0,208.60 L321.5,207.67 L322.0,206.74 L322.5,205.84 L323.0,204.95 L323.5,204.07 L324.0,203.21 L324.5,202.36 L325.0,201.52 L325.5,200.68 L326.0,199.85 L326.5,199.02 L327.0,198.19 L327.5,197.36 L328.0,196.54 L328.5,195.73 L329.0,194.91 L329.5,194.10 L330.0,193.29 L330.5,192.49 L331.0,191.69 L331.5,190.90 L332.0,190.12 L332.5,189.34 L333.0,188.56 L333.5,187.79 L334.0,187.03 L334.5,186.27 L335.0,185.51 L335.5,184.75 L336.0,184.00 L336.5,183.25 L337.0,182.50 L337.5,181.76 L338.0,181.01 L338.5,180.27 L339.0,179.53 L339.5,178.79 L340.0,178.05 L340.5,177.32 L341.0,176.58 L341.5,175.85 L342.0,175.12 L342.5,174.38 L343.0,173.65 L343.5,172.92 L344.0,172.19 L344.5,171.46 L345.0,170.73 L345.5,170.00 L346.0,169.27 L346.5,168.54 L347.0,167.81 L347.5,167.08 L348.0,166.35 L348.5,165.62 L349.0,164.89 L349.5,164.16 L350.0,163.42 L350.5,162.69 L351.0,161.95 L351.5,161.20 L352.0,160.46 L352.5,159.71 L353.0,158.97 L353.5,158.22 L354.0,157.47 L354.5,156.72 L355.0,155.97 L355.5,155.23 L356.0,154.49 L356.5,153.75 L357.0,153.02 L357.5,152.30 L358.0,151.59 L358.5,150.88 L359.0,150.19 L359.5,149.50 L360.0,148.82 L360.5,148.14 L361.0,147.48 L361.5,146.83 L362.0,146.18 L362.5,145.54 L363.0,144.91 L363.5,144.29 L364.0,143.68 L364.5,143.07 L365.0,142.47 L365.5,141.88 L366.0,141.30 L366.5,140.72 L367.0,140.16 L367.5,139.60 L368.0,139.06 L368.5,138.52 L369.0,138.00 L369.5,137.49 L370.0,136.99 L370.5,136.51 L371.0,136.04 L371.5,135.58 L372.0,135.15 L372.5,134.72 L373.0,134.31 L373.5,133.92 L374.0,133.54 L374.5,133.18 L375.0,132.83 L375.5,132.49 L376.0,132.17 L376.5,131.86 L377.0,131.57 L377.5,131.29 L378.0,131.02 L378.5,130.77 L379.0,130.54 L379.5,130.31 L380.0,130.10 L380.5,129.90 L381.0,129.72 L381.5,129.55 L382.0,129.40 L382.5,129.25 L383.0,129.13 L383.5,129.01 L384.0,128.91 L384.5,128.82 L385.0,128.74 L385.5,128.68 L386.0,128.64 L386.5,128.44 L387.0,128.41 L387.5,128.40 L388.0,128.41 L388.5,128.45 L389.0,128.51 L389.5,128.60 L390.0,128.70 L390.5,128.82 L391.0,128.95 L391.5,129.10 L392.0,129.35 L392.5,129.56 L393.0,129.81 L393.5,130.09 L394.0,130.43 L394.5,130.82 L395.0,131.26 L395.5,131.76 L396.0,132.30 L396.5,132.89 L397.0,133.51 L397.5,134.16 L398.0,134.83 L398.5,135.52 L399.0,136.22 L399.5,136.93 L400.0,137.66 L400.5,138.39 L401.0,139.15 L401.5,139.92 L402.0,140.71 L402.5,141.52 L403.0,142.35 L403.5,143.19 L404.0,144.05 L404.5,144.91 L405.0,145.78 L405.5,146.65 L406.0,147.53 L406.5,148.41 L407.0,149.30 L407.5,150.20 L408.0,151.09 L408.5,151.98 L409.0,152.86 L409.5,153.74 L410.0,154.60 L410.5,155.46 L411.0,156.30 L411.5,157.14 L412.0,157.97 L412.5,158.78 L413.0,159.58 L413.5,160.35 L414.0,161.09 L414.5,161.79 L415.0,162.44 L415.5,163.02 L416.0,163.55 L416.5,164.02 L417.0,164.43 L417.5,164.80 L418.0,165.12 L418.5,165.41 L419.0,165.67 L419.5,165.91 L420.0,166.13 L420.5,166.33 L421.0,166.51 L421.5,166.67 L422.0,166.81 L422.5,166.92 L423.0,167.00 L423.5,167.07 L424.0,167.12 L424.5,167.15 L425.0,167.17 L425.5,167.18 L426.0,167.18 L426.5,167.17 L427.0,167.17 L427.5,167.16 L428.0,167.16 L428.5,167.15 L429.0,167.14 L429.5,167.13 L430.0,167.13 L430.5,167.12 L431.0,167.11 L431.5,167.11 L432.0,167.10 L432.5,167.10 L433.0,167.09 L433.5,167.09 L434.0,167.09 L434.5,167.08 L435.0,167.08 L435.5,167.08 L436.0,167.08 L436.5,167.07 L437.0,167.07 L437.5,167.07 L438.0,167.06 L438.5,167.06 L439.0,167.06 L439.5,167.06 L440.0,167.05 L440.5,167.05 L441.0,167.05 L441.5,167.04 L442.0,167.04 L442.5,167.04 L443.0,167.04 L443.5,167.03 L444.0,167.03 L444.5,167.03 L445.0,167.02 L445.5,167.02 L446.0,167.02 L446.5,167.02 L447.0,167.01 L447.5,167.01 L448.0,167.01 L448.5,167.01 L449.0,167.00 L449.5,167.00 L450.0,167.00 L450.5,167.00 L451.0,166.99 L451.5,166.99 L452.0,166.99 L452.5,166.99 L453.0,166.98 L453.5,166.98 L454.0,166.98 L454.5,166.98 L455.0,166.97 L455.5,166.97 L456.0,166.97 L456.5,166.97 L457.0,166.96 L457.5,166.96 L458.0,166.96 L458.5,166.96 L459.0,166.96 L459.5,166.95 L460.0,166.95 L460.5,166.95 L461.0,166.95 L461.5,166.94 L462.0,166.94 L462.5,166.94 L463.0,166.94 L463.5,166.94 L464.0,166.93 L464.5,166.93 L465.0,166.93 L465.5,166.93 L466.0,166.92 L466.5,166.92 L467.0,166.92 L467.5,166.92 L468.0,166.92 L468.5,166.91 L469.0,166.91 L469.5,166.91 L470.0,166.91 L470.5,166.91 L471.0,166.91 L471.5,166.90 L472.0,166.90 L472.5,166.90 L473.0,166.90 L473.5,166.90 L474.0,166.89 L474.5,166.89 L475.0,166.89 L475.5,166.89 L476.0,166.89 L476.5,166.89 L477.0,166.88 L477.5,166.88 L478.0,166.88 L478.5,166.88 L479.0,166.88 L479.5,166.88 L480.0,166.87 L480.5,166.87 L481.0,166.87 L481.5,166.87 L482.0,166.87 L482.5,166.87 L483.0,166.86 L483.5,166.86 L484.0,166.86 L484.5,166.86 L485.0,166.86 L485.5,166.86 L486.0,166.86 L486.5,166.85 L487.0,166.85 L487.5,166.85 L488.0,166.85 L488.5,166.85 L489.0,166.85 L489.5,166.85 L490.0,166.85 L490.5,166.84 L491.0,166.84 L491.5,166.84 L492.0,166.84 L492.5,166.84 L493.0,166.84 L493.5,166.84 L494.0,166.84 L494.5,166.83 L495.0,166.83 L495.5,166.83 L496.0,166.83 L496.5,166.83 L497.0,166.83 L497.5,166.83 L498.0,166.83 L498.5,166.83 L499.0,166.83 L499.5,166.82 L500.0,166.82 L500.5,166.82 L501.0,166.82 L501.5,166.82 L502.0,166.82 L502.5,166.82 L503.0,166.82 L503.5,166.82 L504.0,166.82 L504.5,166.82 L505.0,166.82 L505.5,166.81 L506.0,166.81 L506.5,166.81 L507.0,166.81 L507.5,166.81 L508.0,166.81 L508.5,166.81 L509.0,166.81 L509.5,166.81 L510.0,166.81 L510.5,166.81 L511.0,166.81 L511.5,166.81 L512.0,166.81 L512.5,166.81 L513.0,166.81 L513.5,166.81 L514.0,166.80 L514.5,166.80 L515.0,166.80 L515.5,166.80 L516.0,166.80 L516.5,166.80 L517.0,166.80 L517.5,166.80 L518.0,166.80 L518.5,166.80 L519.0,166.80 L519.5,166.80 L520.0,166.80 L520.5,166.80 L521.0,166.80 L521.5,166.80 L522.0,166.80 L522.5,166.80 L523.0,166.80 L523.5,166.80 L524.0,166.80 L524.5,166.80 L525.0,166.80" stroke="#55504b"/><path d="M63.0,166.80 L63.5,166.80 L64.0,166.80 L64.5,166.80 L65.0,166.80 L65.5,166.80 L66.0,166.80 L66.5,166.80 L67.0,166.80 L67.5,166.80 L68.0,166.80 L68.5,166.80 L69.0,166.80 L69.5,166.80 L70.0,166.80 L70.5,166.80 L71.0,166.80 L71.5,166.80 L72.0,166.80 L72.5,166.80 L73.0,166.80 L73.5,166.80 L74.0,166.80 L74.5,166.80 L75.0,166.80 L75.5,166.80 L76.0,166.80 L76.5,166.80 L77.0,166.80 L77.5,166.80 L78.0,166.80 L78.5,166.80 L79.0,166.80 L79.5,166.80 L80.0,166.80 L80.5,166.80 L81.0,166.80 L81.5,166.80 L82.0,166.80 L82.5,166.80 L83.0,166.80 L83.5,166.80 L84.0,166.80 L84.5,166.80 L85.0,166.80 L85.5,166.80 L86.0,166.80 L86.5,166.80 L87.0,166.80 L87.5,166.80 L88.0,166.80 L88.5,166.80 L89.0,166.80 L89.5,166.80 L90.0,166.80 L90.5,166.80 L91.0,166.80 L91.5,166.80 L92.0,166.80 L92.5,166.80 L93.0,166.80 L93.5,166.80 L94.0,166.80 L94.5,166.80 L95.0,166.80 L95.5,166.80 L96.0,166.80 L96.5,166.80 L97.0,166.80 L97.5,166.80 L98.0,166.80 L98.5,166.80 L99.0,166.80 L99.5,166.80 L100.0,166.80 L100.5,166.80 L101.0,166.80 L101.5,166.80 L102.0,166.80 L102.5,166.80 L103.0,166.80 L103.5,166.80 L104.0,166.80 L104.5,166.80 L105.0,166.80 L105.5,166.80 L106.0,166.80 L106.5,166.80 L107.0,166.80 L107.5,166.80 L108.0,166.80 L108.5,166.80 L109.0,166.80 L109.5,166.80 L110.0,166.80 L110.5,166.80 L111.0,166.80 L111.5,166.80 L112.0,166.80 L112.5,166.80 L113.0,166.80 L113.5,166.80 L114.0,166.80 L114.5,166.81 L115.0,166.82 L115.5,166.84 L116.0,166.88 L116.5,166.94 L117.0,167.03 L117.5,167.15 L118.0,167.30 L118.5,167.48 L119.0,167.68 L119.5,167.93 L120.0,168.20 L120.5,168.51 L121.0,168.86 L121.5,169.24 L122.0,169.65 L122.5,170.10 L123.0,170.57 L123.5,171.08 L124.0,171.63 L124.5,172.22 L125.0,172.86 L125.5,173.55 L126.0,174.28 L126.5,175.05 L127.0,175.85 L127.5,176.67 L128.0,177.50 L128.5,178.33 L129.0,179.15 L129.5,179.95 L130.0,180.74 L130.5,181.51 L131.0,182.26 L131.5,183.00 L132.0,183.74 L132.5,184.47 L133.0,185.20 L133.5,185.92 L134.0,186.64 L134.5,187.36 L135.0,188.09 L135.5,188.82 L136.0,189.55 L136.5,190.29 L137.0,191.04 L137.5,191.80 L138.0,192.57 L138.5,193.35 L139.0,194.14 L139.5,194.92 L140.0,195.70 L140.5,196.47 L141.0,197.22 L141.5,197.94 L142.0,198.63 L142.5,199.29 L143.0,199.92 L143.5,200.53 L144.0,201.12 L144.5,201.69 L145.0,202.24 L145.5,202.78 L146.0,203.30 L146.5,203.80 L147.0,204.27 L147.5,204.71 L148.0,205.12 L148.5,205.50 L149.0,205.84 L149.5,206.15 L150.0,206.43 L150.5,206.72 L151.0,206.94 L151.5,207.16 L152.0,207.36 L152.5,207.56 L153.0,207.74 L153.5,207.89 L154.0,208.03 L154.5,208.14 L155.0,208.23 L155.5,208.28 L156.0,208.30 L156.5,208.28 L157.0,208.23 L157.5,208.14 L158.0,208.03 L158.5,207.89 L159.0,207.74 L159.5,207.58 L160.0,206.99 L160.5,206.71 L161.0,206.39 L161.5,206.04 L162.0,205.65 L162.5,205.22 L163.0,204.77 L163.5,204.28 L164.0,203.77 L164.5,203.23 L165.0,202.67 L165.5,202.08 L166.0,201.46 L166.5,200.82 L167.0,200.16 L167.5,199.47 L168.0,198.76 L168.5,198.03 L169.0,197.27 L169.5,196.49 L170.0,195.69 L170.5,194.86 L171.0,194.02 L171.5,193.16 L172.0,192.28 L172.5,191.39 L173.0,190.48 L173.5,189.56 L174.0,188.63 L174.5,187.69 L175.0,186.74 L175.5,185.79 L176.0,184.84 L176.5,183.89 L177.0,182.95 L177.5,182.01 L178.0,181.07 L178.5,180.15 L179.0,179.24 L179.5,178.34 L180.0,177.46 L180.5,176.59 L181.0,175.73 L181.5,174.88 L182.0,174.05 L182.5,173.23 L183.0,172.42 L183.5,171.62 L184.0,170.83 L184.5,170.05 L185.0,169.27 L185.5,168.51 L186.0,167.74 L186.5,166.98 L187.0,166.22 L187.5,165.46 L188.0,164.70 L188.5,163.93 L189.0,163.16 L189.5,162.38 L190.0,161.60 L190.5,160.81 L191.0,160.01 L191.5,159.21 L192.0,158.40 L192.5,157.58 L193.0,156.76 L193.5,155.93 L194.0,155.09 L194.5,154.25 L195.0,153.40 L195.5,152.55 L196.0,151.69 L196.5,150.83 L197.0,149.97 L197.5,149.11 L198.0,148.24 L198.5,147.38 L199.0,146.52 L199.5,145.66 L200.0,144.80 L200.5,143.94 L201.0,143.09 L201.5,142.24 L202.0,141.40 L202.5,140.56 L203.0,139.73 L203.5,138.90 L204.0,138.08 L204.5,137.26 L205.0,136.45 L205.5,135.65 L206.0,134.85 L206.5,134.06 L207.0,133.28 L207.5,132.49 L208.0,131.71 L208.5,130.93 L209.0,130.15 L209.5,129.36 L210.0,128.58 L210.5,127.79 L211.0,126.99 L211.5,126.19 L212.0,125.39 L212.5,124.58 L213.0,123.76 L213.5,122.93 L214.0,122.10 L214.5,121.26 L215.0,120.42 L215.5,119.57 L216.0,118.71 L216.5,117.85 L217.0,116.99 L217.5,116.12 L218.0,115.25 L218.5,114.38 L219.0,113.50 L219.5,112.62 L220.0,111.75 L220.5,110.87 L221.0,109.99 L221.5,109.11 L222.0,108.23 L222.5,107.36 L223.0,106.48 L223.5,105.61 L224.0,104.73 L224.5,103.86 L225.0,102.99 L225.5,102.12 L226.0,101.25 L226.5,100.39 L227.0,99.54 L227.5,98.69 L228.0,97.86 L228.5,97.03 L229.0,96.23 L229.5,95.44 L230.0,94.68 L230.5,93.93 L231.0,93.21 L231.5,92.51 L232.0,91.83 L232.5,91.17 L233.0,90.54 L233.5,89.92 L234.0,89.33 L234.5,88.77 L235.0,88.22 L235.5,87.70 L236.0,87.20 L236.5,86.72 L237.0,86.26 L237.5,85.83 L238.0,85.43 L238.5,85.05 L239.0,84.70 L239.5,84.38 L240.0,84.09 L240.5,83.83 L241.0,83.59 L241.5,83.39 L242.0,83.21 L242.5,83.07 L243.0,82.95 L243.5,82.87 L244.0,82.83 L244.5,82.46 L245.0,82.39 L245.5,82.34 L246.0,82.31 L246.5,82.31 L247.0,82.48 L247.5,82.83 L248.0,83.30 L248.5,84.14 L249.0,85.56 L249.5,87.43 L250.0,89.63 L250.5,92.02 L251.0,94.65 L251.5,98.02 L252.0,101.91 L252.5,106.00 L253.0,110.40 L253.5,115.30 L254.0,120.49 L254.5,125.76 L255.0,130.91 L255.5,135.73 L256.0,140.00 L256.5,143.93 L257.0,147.76 L257.5,151.40 L258.0,154.73 L258.5,157.63 L259.0,160.00 L259.5,162.08 L260.0,164.00 L260.5,165.46 L261.0,166.20 L261.5,166.45 L262.0,166.64 L262.5,166.76 L263.0,166.80 L263.5,166.80 L264.0,166.80 L264.5,166.80 L265.0,166.80 L265.5,166.80 L266.0,166.80 L266.5,166.80 L267.0,166.80 L267.5,166.80 L268.0,166.80 L268.5,166.80 L269.0,166.80 L269.5,166.80 L270.0,166.80 L270.5,166.80 L271.0,166.80 L271.5,166.80 L272.0,166.80 L272.5,166.80 L273.0,166.80 L273.5,166.80 L274.0,166.80 L274.5,166.80 L275.0,166.80 L275.5,166.80 L276.0,166.80 L276.5,166.80 L277.0,166.80 L277.5,166.80 L278.0,166.80 L278.5,166.80 L279.0,166.80 L279.5,166.80 L280.0,166.80 L280.5,166.80 L281.0,166.80 L281.5,166.80 L282.0,166.80 L282.5,166.80 L283.0,166.80 L283.5,166.80 L284.0,166.80 L284.5,166.80 L285.0,166.80 L285.5,166.80 L286.0,166.80 L286.5,166.80 L287.0,166.80 L287.5,167.50 L288.0,169.78 L288.5,172.95 L289.0,178.40 L289.5,185.72 L290.0,195.29 L290.5,204.41 L291.0,213.29 L291.5,220.80 L292.0,227.16 L292.5,232.90 L293.0,238.39 L293.5,243.22 L294.0,246.91 L294.5,249.90 L295.0,251.49 L295.5,252.59 L296.0,253.43 L296.5,253.91 L297.0,253.99 L297.5,253.89 L298.0,253.70 L298.5,253.44 L299.0,253.16 L299.5,252.87 L300.0,252.43 L300.5,252.23 L301.0,251.99 L301.5,251.72 L302.0,251.43 L302.5,251.12 L303.0,250.78 L303.5,250.42 L304.0,250.03 L304.5,249.61 L305.0,249.16 L305.5,248.67 L306.0,248.16 L306.5,247.61 L307.0,247.03 L307.5,246.43 L308.0,245.81 L308.5,245.16 L309.0,244.50 L309.5,243.81 L310.0,243.12 L310.5,242.41 L311.0,241.68 L311.5,240.94 L312.0,240.18 L312.5,239.41 L313.0,238.61 L313.5,237.79 L314.0,236.95 L314.5,236.08 L315.0,235.18 L315.5,234.25 L316.0,233.30 L316.5,232.31 L317.0,231.30 L317.5,230.25 L318.0,229.17 L318.5,228.06 L319.0,226.92 L319.5,225.76 L320.0,224.57 L320.5,223.36 L321.0,222.14 L321.5,220.90 L322.0,219.65 L322.5,218.40 L323.0,217.14 L323.5,215.88 L324.0,214.63 L324.5,213.38 L325.0,212.14 L325.5,210.91 L326.0,209.70 L326.5,208.49 L327.0,207.29 L327.5,206.11 L328.0,204.93 L328.5,203.77 L329.0,202.61 L329.5,201.47 L330.0,200.33 L330.5,199.21 L331.0,198.10 L331.5,196.99 L332.0,195.90 L332.5,194.82 L333.0,193.75 L333.5,192.69 L334.0,191.64 L334.5,190.61 L335.0,189.59 L335.5,188.58 L336.0,187.58 L336.5,186.60 L337.0,185.63 L337.5,184.68 L338.0,183.75 L338.5,182.84 L339.0,181.95 L339.5,181.09 L340.0,180.24 L340.5,179.41 L341.0,178.60 L341.5,177.82 L342.0,177.05 L342.5,176.29 L343.0,175.55 L343.5,174.81 L344.0,174.09 L344.5,173.36 L345.0,172.64 L345.5,171.91 L346.0,171.18 L346.5,170.44 L347.0,169.68 L347.5,168.92 L348.0,168.14 L348.5,167.35 L349.0,166.54 L349.5,165.72 L350.0,164.88 L350.5,164.03 L351.0,163.18 L351.5,162.31 L352.0,161.43 L352.5,160.55 L353.0,159.67 L353.5,158.78 L354.0,157.88 L354.5,156.99 L355.0,156.10 L355.5,155.21 L356.0,154.33 L356.5,153.46 L357.0,152.59 L357.5,151.72 L358.0,150.87 L358.5,150.02 L359.0,149.19 L359.5,148.36 L360.0,147.54 L360.5,146.73 L361.0,145.93 L361.5,145.14 L362.0,144.36 L362.5,143.58 L363.0,142.82 L363.5,142.07 L364.0,141.33 L364.5,140.60 L365.0,139.88 L365.5,139.17 L366.0,138.48 L366.5,137.81 L367.0,137.16 L367.5,136.53 L368.0,135.93 L368.5,135.35 L369.0,134.81 L369.5,134.30 L370.0,133.81 L370.5,133.36 L371.0,132.93 L371.5,132.53 L372.0,132.15 L372.5,131.79 L373.0,131.45 L373.5,131.12 L374.0,130.82 L374.5,130.52 L375.0,130.24 L375.5,129.98 L376.0,129.72 L376.5,129.48 L377.0,129.25 L377.5,129.03 L378.0,128.82 L378.5,128.61 L379.0,128.42 L379.5,128.24 L380.0,128.06 L380.5,127.90 L381.0,127.73 L381.5,127.58 L382.0,127.43 L382.5,127.29 L383.0,127.15 L383.5,127.02 L384.0,126.90 L384.5,126.79 L385.0,126.69 L385.5,126.61 L386.0,126.54 L386.5,126.26 L387.0,126.22 L387.5,126.20 L388.0,126.22 L388.5,126.26 L389.0,126.34 L389.5,126.43 L390.0,126.55 L390.5,126.68 L391.0,126.83 L391.5,126.99 L392.0,127.20 L392.5,127.37 L393.0,127.56 L393.5,127.76 L394.0,127.98 L394.5,128.22 L395.0,128.47 L395.5,128.75 L396.0,129.05 L396.5,129.38 L397.0,129.73 L397.5,130.10 L398.0,130.50 L398.5,130.94 L399.0,131.41 L399.5,131.92 L400.0,132.49 L400.5,133.12 L401.0,133.82 L401.5,134.58 L402.0,135.42 L402.5,136.33 L403.0,137.29 L403.5,138.32 L404.0,139.38 L404.5,140.49 L405.0,141.62 L405.5,142.77 L406.0,143.94 L406.5,145.12 L407.0,146.32 L407.5,147.54 L408.0,148.77 L408.5,150.03 L409.0,151.29 L409.5,152.55 L410.0,153.80 L410.5,155.02 L411.0,156.21 L411.5,157.35 L412.0,158.44 L412.5,159.47 L413.0,160.44 L413.5,161.34 L414.0,162.18 L414.5,162.94 L415.0,163.62 L415.5,164.23 L416.0,164.76 L416.5,165.23 L417.0,165.64 L417.5,165.99 L418.0,166.29 L418.5,166.54 L419.0,166.75 L419.5,166.92 L420.0,167.05 L420.5,167.14 L421.0,167.22 L421.5,167.27 L422.0,167.31 L422.5,167.34 L423.0,167.37 L423.5,167.40 L424.0,167.42 L424.5,167.43 L425.0,167.45 L425.5,167.46 L426.0,167.47 L426.5,167.48 L427.0,167.49 L427.5,167.49 L428.0,167.49 L428.5,167.50 L429.0,167.50 L429.5,167.50 L430.0,167.50 L430.5,167.50 L431.0,167.50 L431.5,167.50 L432.0,167.50 L432.5,167.50 L433.0,167.50 L433.5,167.50 L434.0,167.50 L434.5,167.50 L435.0,167.50 L435.5,167.50 L436.0,167.50 L436.5,167.50 L437.0,167.50 L437.5,167.50 L438.0,167.50 L438.5,167.50 L439.0,167.50 L439.5,167.50 L440.0,167.50 L440.5,167.50 L441.0,167.50 L441.5,167.50 L442.0,167.50 L442.5,167.50 L443.0,167.50 L443.5,167.50 L444.0,167.50 L444.5,167.50 L445.0,167.50 L445.5,167.50 L446.0,167.50 L446.5,167.50 L447.0,167.50 L447.5,167.50 L448.0,167.50 L448.5,167.50 L449.0,167.50 L449.5,167.50 L450.0,167.50 L450.5,167.50 L451.0,167.50 L451.5,167.50 L452.0,167.50 L452.5,167.50 L453.0,167.50 L453.5,167.50 L454.0,167.50 L454.5,167.50 L455.0,167.50 L455.5,167.50 L456.0,167.50 L456.5,167.50 L457.0,167.50 L457.5,167.50 L458.0,167.50 L458.5,167.50 L459.0,167.50 L459.5,167.50 L460.0,167.50 L460.5,167.50 L461.0,167.50 L461.5,167.50 L462.0,167.50 L462.5,167.50 L463.0,167.50 L463.5,167.50 L464.0,167.50 L464.5,167.50 L465.0,167.50 L465.5,167.50 L466.0,167.50 L466.5,167.50 L467.0,167.50 L467.5,167.50 L468.0,167.50 L468.5,167.50 L469.0,167.50 L469.5,167.50 L470.0,167.50 L470.5,167.50 L471.0,167.50 L471.5,167.50 L472.0,167.50 L472.5,167.50 L473.0,167.50 L473.5,167.50 L474.0,167.50 L474.5,167.50 L475.0,167.50 L475.5,167.50 L476.0,167.50 L476.5,167.50 L477.0,167.50 L477.5,167.50 L478.0,167.50 L478.5,167.50 L479.0,167.50 L479.5,167.50 L480.0,167.50 L480.5,167.50 L481.0,167.50 L481.5,167.50 L482.0,167.50 L482.5,167.50 L483.0,167.50 L483.5,167.50 L484.0,167.50 L484.5,167.50 L485.0,167.50 L485.5,167.50 L486.0,167.50 L486.5,167.50 L487.0,167.50 L487.5,167.50 L488.0,167.50 L488.5,167.50 L489.0,167.50 L489.5,167.50 L490.0,167.50 L490.5,167.50 L491.0,167.50 L491.5,167.50 L492.0,167.50 L492.5,167.50 L493.0,167.50 L493.5,167.50 L494.0,167.50 L494.5,167.50 L495.0,167.50 L495.5,167.50 L496.0,167.50 L496.5,167.50 L497.0,167.50 L497.5,167.50 L498.0,167.50 L498.5,167.50 L499.0,167.50 L499.5,167.50 L500.0,167.50 L500.5,167.50 L501.0,167.50 L501.5,167.50 L502.0,167.50 L502.5,167.50 L503.0,167.50 L503.5,167.50 L504.0,167.50 L504.5,167.50 L505.0,167.50 L505.5,167.50 L506.0,167.50 L506.5,167.50 L507.0,167.50 L507.5,167.50 L508.0,167.50 L508.5,167.50 L509.0,167.50 L509.5,167.50 L510.0,167.50 L510.5,167.50 L511.0,167.50 L511.5,167.50 L512.0,167.50 L512.5,167.50 L513.0,167.50 L513.5,167.50 L514.0,167.50 L514.5,167.50 L515.0,167.50 L515.5,167.50 L516.0,167.50 L516.5,167.50 L517.0,167.50 L517.5,167.50 L518.0,167.50 L518.5,167.50 L519.0,167.50 L519.5,167.50 L520.0,167.50 L520.5,167.50 L521.0,167.50 L521.5,167.50 L522.0,167.50 L522.5,167.50 L523.0,167.50 L523.5,167.50 L524.0,167.50 L524.5,167.50 L525.0,167.50" stroke="#ff44ff"/><path d="M63.0,166.80 L63.5,166.80 L64.0,166.80 L64.5,166.80 L65.0,166.80 L65.5,166.80 L66.0,166.80 L66.5,166.80 L67.0,166.80 L67.5,166.80 L68.0,166.80 L68.5,166.80 L69.0,166.80 L69.5,166.80 L70.0,166.80 L70.5,166.80 L71.0,166.80 L71.5,166.80 L72.0,166.80 L72.5,166.80 L73.0,166.80 L73.5,166.80 L74.0,166.80 L74.5,166.80 L75.0,166.80 L75.5,166.80 L76.0,166.80 L76.5,166.80 L77.0,166.80 L77.5,166.80 L78.0,166.80 L78.5,166.80 L79.0,166.80 L79.5,166.80 L80.0,166.80 L80.5,166.80 L81.0,166.80 L81.5,166.80 L82.0,166.80 L82.5,166.80 L83.0,166.80 L83.5,166.80 L84.0,166.80 L84.5,166.80 L85.0,166.80 L85.5,166.80 L86.0,166.80 L86.5,166.80 L87.0,166.80 L87.5,166.80 L88.0,166.80 L88.5,166.80 L89.0,166.80 L89.5,166.80 L90.0,166.80 L90.5,166.80 L91.0,166.80 L91.5,166.80 L92.0,166.80 L92.5,166.80 L93.0,166.80 L93.5,166.80 L94.0,166.80 L94.5,166.80 L95.0,166.80 L95.5,166.80 L96.0,166.80 L96.5,166.80 L97.0,166.80 L97.5,166.80 L98.0,166.80 L98.5,166.80 L99.0,166.80 L99.5,166.80 L100.0,166.80 L100.5,166.80 L101.0,166.80 L101.5,166.80 L102.0,166.80 L102.5,166.80 L103.0,166.80 L103.5,166.80 L104.0,166.80 L104.5,166.80 L105.0,166.80 L105.5,166.80 L106.0,166.80 L106.5,166.80 L107.0,166.80 L107.5,166.80 L108.0,166.80 L108.5,166.80 L109.0,166.80 L109.5,166.80 L110.0,166.80 L110.5,166.80 L111.0,166.80 L111.5,166.80 L112.0,166.80 L112.5,166.81 L113.0,166.81 L113.5,166.83 L114.0,166.86 L114.5,166.90 L115.0,166.97 L115.5,167.06 L116.0,167.18 L116.5,167.32 L117.0,167.49 L117.5,167.68 L118.0,167.90 L118.5,168.16 L119.0,168.45 L119.5,168.79 L120.0,169.16 L120.5,169.58 L121.0,170.03 L121.5,170.50 L122.0,171.01 L122.5,171.53 L123.0,172.08 L123.5,172.67 L124.0,173.28 L124.5,173.93 L125.0,174.60 L125.5,175.31 L126.0,176.04 L126.5,176.78 L127.0,177.52 L127.5,178.27 L128.0,179.01 L128.5,179.73 L129.0,180.45 L129.5,181.15 L130.0,181.83 L130.5,182.51 L131.0,183.17 L131.5,183.84 L132.0,184.50 L132.5,185.16 L133.0,185.83 L133.5,186.50 L134.0,187.19 L134.5,187.88 L135.0,188.60 L135.5,189.33 L136.0,190.09 L136.5,190.88 L137.0,191.69 L137.5,192.52 L138.0,193.38 L138.5,194.25 L139.0,195.12 L139.5,195.98 L140.0,196.83 L140.5,197.65 L141.0,198.43 L141.5,199.19 L142.0,199.91 L142.5,200.60 L143.0,201.27 L143.5,201.92 L144.0,202.56 L144.5,203.17 L145.0,203.77 L145.5,204.34 L146.0,204.88 L146.5,205.39 L147.0,205.87 L147.5,206.31 L148.0,206.72 L148.5,207.09 L149.0,207.42 L149.5,207.73 L150.0,208.02 L150.5,208.32 L151.0,208.58 L151.5,208.83 L152.0,209.06 L152.5,209.28 L153.0,209.48 L153.5,209.66 L154.0,209.81 L154.5,209.93 L155.0,210.02 L155.5,210.08 L156.0,210.10 L156.5,210.09 L157.0,210.04 L157.5,209.98 L158.0,209.89 L158.5,209.79 L159.0,209.67 L159.5,209.54 L160.0,209.06 L160.5,208.82 L161.0,208.56 L161.5,208.26 L162.0,207.93 L162.5,207.56 L163.0,207.16 L163.5,206.72 L164.0,206.26 L164.5,205.77 L165.0,205.24 L165.5,204.69 L166.0,204.11 L166.5,203.50 L167.0,202.86 L167.5,202.18 L168.0,201.48 L168.5,200.74 L169.0,199.97 L169.5,199.18 L170.0,198.35 L170.5,197.50 L171.0,196.62 L171.5,195.72 L172.0,194.80 L172.5,193.86 L173.0,192.91 L173.5,191.94 L174.0,190.95 L174.5,189.95 L175.0,188.94 L175.5,187.91 L176.0,186.87 L176.5,185.83 L177.0,184.77 L177.5,183.72 L178.0,182.67 L178.5,181.64 L179.0,180.61 L179.5,179.60 L180.0,178.62 L180.5,177.65 L181.0,176.71 L181.5,175.78 L182.0,174.88 L182.5,173.99 L183.0,173.12 L183.5,172.26 L184.0,171.40 L184.5,170.56 L185.0,169.73 L185.5,168.90 L186.0,168.08 L186.5,167.27 L187.0,166.46 L187.5,165.65 L188.0,164.85 L188.5,164.06 L189.0,163.26 L189.5,162.46 L190.0,161.67 L190.5,160.87 L191.0,160.08 L191.5,159.28 L192.0,158.48 L192.5,157.68 L193.0,156.88 L193.5,156.08 L194.0,155.28 L194.5,154.47 L195.0,153.67 L195.5,152.86 L196.0,152.06 L196.5,151.25 L197.0,150.44 L197.5,149.62 L198.0,148.81 L198.5,147.99 L199.0,147.17 L199.5,146.35 L200.0,145.52 L200.5,144.68 L201.0,143.85 L201.5,143.00 L202.0,142.15 L202.5,141.30 L203.0,140.44 L203.5,139.58 L204.0,138.71 L204.5,137.83 L205.0,136.95 L205.5,136.06 L206.0,135.17 L206.5,134.28 L207.0,133.37 L207.5,132.47 L208.0,131.56 L208.5,130.65 L209.0,129.73 L209.5,128.81 L210.0,127.88 L210.5,126.96 L211.0,126.03 L211.5,125.09 L212.0,124.15 L212.5,123.21 L213.0,122.26 L213.5,121.31 L214.0,120.35 L214.5,119.39 L215.0,118.43 L215.5,117.45 L216.0,116.48 L216.5,115.50 L217.0,114.52 L217.5,113.54 L218.0,112.55 L218.5,111.56 L219.0,110.58 L219.5,109.59 L220.0,108.61 L220.5,107.63 L221.0,106.66 L221.5,105.68 L222.0,104.72 L222.5,103.76 L223.0,102.81 L223.5,101.86 L224.0,100.92 L224.5,99.98 L225.0,99.06 L225.5,98.14 L226.0,97.23 L226.5,96.34 L227.0,95.45 L227.5,94.58 L228.0,93.73 L228.5,92.89 L229.0,92.07 L229.5,91.27 L230.0,90.50 L230.5,89.74 L231.0,89.01 L231.5,88.30 L232.0,87.62 L232.5,86.95 L233.0,86.31 L233.5,85.68 L234.0,85.08 L234.5,84.49 L235.0,83.92 L235.5,83.37 L236.0,82.83 L236.5,82.31 L237.0,81.81 L237.5,81.33 L238.0,80.87 L238.5,80.42 L239.0,79.99 L239.5,79.58 L240.0,79.19 L240.5,78.83 L241.0,78.48 L241.5,78.16 L242.0,77.85 L242.5,77.58 L243.0,77.33 L243.5,77.12 L244.0,76.94 L244.5,76.36 L245.0,76.24 L245.5,76.20 L246.0,76.20 L246.5,76.20 L247.0,76.20 L247.5,76.20 L248.0,76.25 L248.5,76.41 L249.0,76.66 L249.5,77.00 L250.0,78.48 L250.5,81.49 L251.0,85.00 L251.5,89.12 L252.0,94.21 L252.5,99.71 L253.0,105.00 L253.5,110.08 L254.0,115.25 L254.5,120.42 L255.0,125.49 L255.5,130.39 L256.0,135.00 L256.5,139.53 L257.0,144.12 L257.5,148.55 L258.0,152.64 L258.5,156.19 L259.0,159.00 L259.5,161.36 L260.0,163.51 L260.5,165.15 L261.0,166.00 L261.5,166.33 L262.0,166.58 L262.5,166.74 L263.0,166.80 L263.5,166.80 L264.0,166.80 L264.5,166.80 L265.0,166.80 L265.5,166.80 L266.0,166.80 L266.5,166.80 L267.0,166.80 L267.5,166.80 L268.0,166.80 L268.5,166.80 L269.0,166.80 L269.5,166.80 L270.0,166.80 L270.5,166.80 L271.0,166.80 L271.5,166.80 L272.0,166.80 L272.5,166.80 L273.0,166.80 L273.5,166.80 L274.0,166.80 L274.5,166.80 L275.0,166.80 L275.5,166.80 L276.0,166.80 L276.5,166.80 L277.0,166.80 L277.5,166.80 L278.0,166.80 L278.5,166.80 L279.0,166.80 L279.5,166.80 L280.0,166.80 L280.5,166.80 L281.0,166.80 L281.5,166.80 L282.0,166.80 L282.5,166.80 L283.0,166.80 L283.5,166.80 L284.0,166.80 L284.5,166.80 L285.0,166.80 L285.5,166.80 L286.0,166.80 L286.5,166.80 L287.0,166.80 L287.5,167.58 L288.0,170.11 L288.5,173.56 L289.0,179.30 L289.5,186.76 L290.0,196.25 L290.5,205.64 L291.0,215.08 L291.5,222.85 L292.0,229.21 L292.5,234.90 L293.0,240.36 L293.5,245.19 L294.0,249.11 L294.5,252.37 L295.0,253.96 L295.5,254.91 L296.0,255.45 L296.5,255.48 L297.0,255.40 L297.5,255.24 L298.0,255.04 L298.5,254.80 L299.0,254.53 L299.5,254.26 L300.0,253.75 L300.5,253.50 L301.0,253.21 L301.5,252.89 L302.0,252.54 L302.5,252.17 L303.0,251.78 L303.5,251.37 L304.0,250.93 L304.5,250.48 L305.0,250.00 L305.5,249.51 L306.0,248.99 L306.5,248.46 L307.0,247.90 L307.5,247.34 L308.0,246.75 L308.5,246.16 L309.0,245.55 L309.5,244.93 L310.0,244.29 L310.5,243.65 L311.0,242.99 L311.5,242.32 L312.0,241.64 L312.5,240.94 L313.0,240.22 L313.5,239.48 L314.0,238.72 L314.5,237.94 L315.0,237.15 L315.5,236.32 L316.0,235.48 L316.5,234.62 L317.0,233.75 L317.5,232.85 L318.0,231.94 L318.5,231.02 L319.0,230.09 L319.5,229.15 L320.0,228.20 L320.5,227.25 L321.0,226.30 L321.5,225.35 L322.0,224.40 L322.5,223.47 L323.0,222.54 L323.5,221.62 L324.0,220.72 L324.5,219.82 L325.0,218.94 L325.5,218.06 L326.0,217.19 L326.5,216.31 L327.0,215.43 L327.5,214.53 L328.0,213.61 L328.5,212.67 L329.0,211.71 L329.5,210.72 L330.0,209.70 L330.5,208.66 L331.0,207.59 L331.5,206.50 L332.0,205.39 L332.5,204.26 L333.0,203.12 L333.5,201.98 L334.0,200.82 L334.5,199.66 L335.0,198.51 L335.5,197.36 L336.0,196.21 L336.5,195.08 L337.0,193.96 L337.5,192.85 L338.0,191.75 L338.5,190.68 L339.0,189.61 L339.5,188.56 L340.0,187.52 L340.5,186.50 L341.0,185.49 L341.5,184.48 L342.0,183.48 L342.5,182.49 L343.0,181.50 L343.5,180.52 L344.0,179.54 L344.5,178.57 L345.0,177.60 L345.5,176.64 L346.0,175.68 L346.5,174.73 L347.0,173.79 L347.5,172.86 L348.0,171.94 L348.5,171.03 L349.0,170.13 L349.5,169.24 L350.0,168.36 L350.5,167.49 L351.0,166.64 L351.5,165.79 L352.0,164.95 L352.5,164.12 L353.0,163.29 L353.5,162.47 L354.0,161.65 L354.5,160.84 L355.0,160.04 L355.5,159.23 L356.0,158.43 L356.5,157.63 L357.0,156.84 L357.5,156.04 L358.0,155.25 L358.5,154.45 L359.0,153.66 L359.5,152.86 L360.0,152.06 L360.5,151.25 L361.0,150.44 L361.5,149.62 L362.0,148.81 L362.5,147.98 L363.0,147.16 L363.5,146.33 L364.0,145.49 L364.5,144.66 L365.0,143.82 L365.5,142.99 L366.0,142.15 L366.5,141.31 L367.0,140.48 L367.5,139.65 L368.0,138.82 L368.5,138.01 L369.0,137.21 L369.5,136.42 L370.0,135.65 L370.5,134.90 L371.0,134.19 L371.5,133.50 L372.0,132.83 L372.5,132.20 L373.0,131.60 L373.5,131.03 L374.0,130.49 L374.5,129.97 L375.0,129.48 L375.5,129.02 L376.0,128.58 L376.5,128.17 L377.0,127.78 L377.5,127.42 L378.0,127.07 L378.5,126.75 L379.0,126.45 L379.5,126.17 L380.0,125.92 L380.5,125.68 L381.0,125.46 L381.5,125.26 L382.0,125.07 L382.5,124.91 L383.0,124.77 L383.5,124.64 L384.0,124.53 L384.5,124.43 L385.0,124.35 L385.5,124.29 L386.0,124.24 L386.5,124.04 L387.0,124.01 L387.5,124.00 L388.0,124.02 L388.5,124.06 L389.0,124.13 L389.5,124.22 L390.0,124.32 L390.5,124.44 L391.0,124.56 L391.5,124.68 L392.0,124.77 L392.5,124.87 L393.0,124.97 L393.5,125.07 L394.0,125.17 L394.5,125.29 L395.0,125.43 L395.5,125.61 L396.0,125.84 L396.5,126.13 L397.0,126.49 L397.5,126.92 L398.0,127.41 L398.5,127.97 L399.0,128.58 L399.5,129.23 L400.0,129.92 L400.5,130.64 L401.0,131.40 L401.5,132.19 L402.0,133.02 L402.5,133.88 L403.0,134.76 L403.5,135.68 L404.0,136.62 L404.5,137.58 L405.0,138.57 L405.5,139.57 L406.0,140.60 L406.5,141.64 L407.0,142.71 L407.5,143.81 L408.0,144.92 L408.5,146.06 L409.0,147.22 L409.5,148.41 L410.0,149.61 L410.5,150.82 L411.0,152.05 L411.5,153.27 L412.0,154.48 L412.5,155.67 L413.0,156.83 L413.5,157.95 L414.0,159.03 L414.5,160.06 L415.0,161.03 L415.5,161.92 L416.0,162.73 L416.5,163.47 L417.0,164.12 L417.5,164.69 L418.0,165.19 L418.5,165.64 L419.0,166.03 L419.5,166.37 L420.0,166.65 L420.5,166.89 L421.0,167.08 L421.5,167.22 L422.0,167.32 L422.5,167.38 L423.0,167.42 L423.5,167.43 L424.0,167.43 L424.5,167.41 L425.0,167.40 L425.5,167.37 L426.0,167.35 L426.5,167.33 L427.0,167.30 L427.5,167.28 L428.0,167.26 L428.5,167.24 L429.0,167.23 L429.5,167.22 L430.0,167.21 L430.5,167.21 L431.0,167.20 L431.5,167.20 L432.0,167.20 L432.5,167.20 L433.0,167.20 L433.5,167.20 L434.0,167.20 L434.5,167.20 L435.0,167.20 L435.5,167.20 L436.0,167.20 L436.5,167.20 L437.0,167.20 L437.5,167.20 L438.0,167.20 L438.5,167.20 L439.0,167.20 L439.5,167.20 L440.0,167.20 L440.5,167.20 L441.0,167.20 L441.5,167.20 L442.0,167.20 L442.5,167.20 L443.0,167.20 L443.5,167.20 L444.0,167.20 L444.5,167.20 L445.0,167.20 L445.5,167.20 L446.0,167.20 L446.5,167.20 L447.0,167.20 L447.5,167.20 L448.0,167.20 L448.5,167.20 L449.0,167.20 L449.5,167.20 L450.0,167.20 L450.5,167.20 L451.0,167.20 L451.5,167.20 L452.0,167.20 L452.5,167.20 L453.0,167.20 L453.5,167.20 L454.0,167.20 L454.5,167.20 L455.0,167.20 L455.5,167.20 L456.0,167.20 L456.5,167.20 L457.0,167.20 L457.5,167.20 L458.0,167.20 L458.5,167.20 L459.0,167.20 L459.5,167.20 L460.0,167.20 L460.5,167.20 L461.0,167.20 L461.5,167.20 L462.0,167.20 L462.5,167.20 L463.0,167.20 L463.5,167.20 L464.0,167.20 L464.5,167.20 L465.0,167.20 L465.5,167.20 L466.0,167.20 L466.5,167.20 L467.0,167.20 L467.5,167.20 L468.0,167.20 L468.5,167.20 L469.0,167.20 L469.5,167.20 L470.0,167.20 L470.5,167.20 L471.0,167.20 L471.5,167.20 L472.0,167.20 L472.5,167.20 L473.0,167.20 L473.5,167.20 L474.0,167.20 L474.5,167.20 L475.0,167.20 L475.5,167.20 L476.0,167.20 L476.5,167.20 L477.0,167.20 L477.5,167.20 L478.0,167.20 L478.5,167.20 L479.0,167.20 L479.5,167.20 L480.0,167.20 L480.5,167.20 L481.0,167.20 L481.5,167.20 L482.0,167.20 L482.5,167.20 L483.0,167.20 L483.5,167.20 L484.0,167.20 L484.5,167.20 L485.0,167.20 L485.5,167.20 L486.0,167.20 L486.5,167.20 L487.0,167.20 L487.5,167.20 L488.0,167.20 L488.5,167.20 L489.0,167.20 L489.5,167.20 L490.0,167.20 L490.5,167.20 L491.0,167.20 L491.5,167.20 L492.0,167.20 L492.5,167.20 L493.0,167.20 L493.5,167.20 L494.0,167.20 L494.5,167.20 L495.0,167.20 L495.5,167.20 L496.0,167.20 L496.5,167.20 L497.0,167.20 L497.5,167.20 L498.0,167.20 L498.5,167.20 L499.0,167.20 L499.5,167.20 L500.0,167.20 L500.5,167.20 L501.0,167.20 L501.5,167.20 L502.0,167.20 L502.5,167.20 L503.0,167.20 L503.5,167.20 L504.0,167.20 L504.5,167.20 L505.0,167.20 L505.5,167.20 L506.0,167.20 L506.5,167.20 L507.0,167.20 L507.5,167.20 L508.0,167.20 L508.5,167.20 L509.0,167.20 L509.5,167.20 L510.0,167.20 L510.5,167.20 L511.0,167.20 L511.5,167.20 L512.0,167.20 L512.5,167.20 L513.0,167.20 L513.5,167.20 L514.0,167.20 L514.5,167.20 L515.0,167.20 L515.5,167.20 L516.0,167.20 L516.5,167.20 L517.0,167.20 L517.5,167.20 L518.0,167.20 L518.5,167.20 L519.0,167.20 L519.5,167.20 L520.0,167.20 L520.5,167.20 L521.0,167.20 L521.5,167.20 L522.0,167.20 L522.5,167.20 L523.0,167.20 L523.5,167.20 L524.0,167.20 L524.5,167.20 L525.0,167.20" stroke="#a6a6a6"/><path d="M63.0,166.80 L63.5,166.80 L64.0,166.80 L64.5,166.80 L65.0,166.80 L65.5,166.80 L66.0,166.80 L66.5,166.80 L67.0,166.80 L67.5,166.80 L68.0,166.80 L68.5,166.80 L69.0,166.80 L69.5,166.80 L70.0,166.80 L70.5,166.80 L71.0,166.80 L71.5,166.80 L72.0,166.80 L72.5,166.80 L73.0,166.80 L73.5,166.80 L74.0,166.80 L74.5,166.80 L75.0,166.80 L75.5,166.80 L76.0,166.80 L76.5,166.80 L77.0,166.80 L77.5,166.80 L78.0,166.80 L78.5,166.80 L79.0,166.80 L79.5,166.80 L80.0,166.80 L80.5,166.80 L81.0,166.80 L81.5,166.80 L82.0,166.80 L82.5,166.80 L83.0,166.80 L83.5,166.80 L84.0,166.80 L84.5,166.80 L85.0,166.80 L85.5,166.80 L86.0,166.80 L86.5,166.80 L87.0,166.80 L87.5,166.80 L88.0,166.80 L88.5,166.80 L89.0,166.80 L89.5,166.80 L90.0,166.80 L90.5,166.80 L91.0,166.80 L91.5,166.80 L92.0,166.80 L92.5,166.80 L93.0,166.80 L93.5,166.80 L94.0,166.80 L94.5,166.80 L95.0,166.80 L95.5,166.80 L96.0,166.80 L96.5,166.80 L97.0,166.80 L97.5,166.80 L98.0,166.80 L98.5,166.80 L99.0,166.80 L99.5,166.80 L100.0,166.80 L100.5,166.78 L101.0,166.71 L101.5,166.61 L102.0,166.49 L102.5,166.36 L103.0,166.22 L103.5,166.08 L104.0,165.97 L104.5,165.87 L105.0,165.82 L105.5,165.80 L106.0,165.82 L106.5,165.87 L107.0,165.94 L107.5,166.02 L108.0,166.12 L108.5,166.24 L109.0,166.36 L109.5,166.48 L110.0,166.60 L110.5,166.73 L111.0,166.88 L111.5,167.04 L112.0,167.22 L112.5,167.46 L113.0,167.66 L113.5,167.89 L114.0,168.13 L114.5,168.39 L115.0,168.67 L115.5,168.98 L116.0,169.31 L116.5,169.67 L117.0,170.06 L117.5,170.48 L118.0,170.91 L118.5,171.37 L119.0,171.85 L119.5,172.34 L120.0,172.85 L120.5,173.38 L121.0,173.93 L121.5,174.50 L122.0,175.10 L122.5,175.72 L123.0,176.35 L123.5,176.99 L124.0,177.65 L124.5,178.30 L125.0,178.96 L125.5,179.63 L126.0,180.29 L126.5,180.95 L127.0,181.61 L127.5,182.28 L128.0,182.95 L128.5,183.63 L129.0,184.32 L129.5,185.02 L130.0,185.74 L130.5,186.46 L131.0,187.21 L131.5,187.98 L132.0,188.77 L132.5,189.59 L133.0,190.45 L133.5,191.33 L134.0,192.24 L134.5,193.17 L135.0,194.11 L135.5,195.06 L136.0,196.00 L136.5,196.93 L137.0,197.84 L137.5,198.73 L138.0,199.58 L138.5,200.41 L139.0,201.22 L139.5,201.99 L140.0,202.74 L140.5,203.46 L141.0,204.14 L141.5,204.78 L142.0,205.39 L142.5,205.96 L143.0,206.50 L143.5,207.01 L144.0,207.50 L144.5,207.95 L145.0,208.39 L145.5,208.80 L146.0,209.18 L146.5,209.55 L147.0,209.90 L147.5,210.23 L148.0,210.54 L148.5,210.83 L149.0,211.09 L149.5,211.33 L150.0,211.55 L150.5,211.80 L151.0,211.94 L151.5,212.08 L152.0,212.21 L152.5,212.33 L153.0,212.44 L153.5,212.54 L154.0,212.63 L154.5,212.70 L155.0,212.75 L155.5,212.79 L156.0,212.80 L156.5,212.78 L157.0,212.74 L157.5,212.66 L158.0,212.56 L158.5,212.45 L159.0,212.31 L159.5,212.16 L160.0,211.50 L160.5,211.20 L161.0,210.85 L161.5,210.47 L162.0,210.04 L162.5,209.58 L163.0,209.09 L163.5,208.58 L164.0,208.04 L164.5,207.49 L165.0,206.92 L165.5,206.35 L166.0,205.76 L166.5,205.16 L167.0,204.54 L167.5,203.91 L168.0,203.25 L168.5,202.57 L169.0,201.87 L169.5,201.13 L170.0,200.35 L170.5,199.54 L171.0,198.69 L171.5,197.80 L172.0,196.88 L172.5,195.91 L173.0,194.91 L173.5,193.88 L174.0,192.82 L174.5,191.74 L175.0,190.64 L175.5,189.52 L176.0,188.38 L176.5,187.24 L177.0,186.10 L177.5,184.95 L178.0,183.81 L178.5,182.67 L179.0,181.54 L179.5,180.43 L180.0,179.34 L180.5,178.26 L181.0,177.20 L181.5,176.16 L182.0,175.14 L182.5,174.14 L183.0,173.15 L183.5,172.19 L184.0,171.24 L184.5,170.31 L185.0,169.40 L185.5,168.50 L186.0,167.62 L186.5,166.74 L187.0,165.88 L187.5,165.03 L188.0,164.18 L188.5,163.33 L189.0,162.49 L189.5,161.64 L190.0,160.80 L190.5,159.95 L191.0,159.10 L191.5,158.25 L192.0,157.39 L192.5,156.53 L193.0,155.67 L193.5,154.82 L194.0,153.96 L194.5,153.10 L195.0,152.25 L195.5,151.39 L196.0,150.54 L196.5,149.70 L197.0,148.85 L197.5,148.01 L198.0,147.18 L198.5,146.34 L199.0,145.50 L199.5,144.67 L200.0,143.83 L200.5,143.00 L201.0,142.16 L201.5,141.32 L202.0,140.48 L202.5,139.63 L203.0,138.79 L203.5,137.94 L204.0,137.09 L204.5,136.24 L205.0,135.39 L205.5,134.53 L206.0,133.68 L206.5,132.82 L207.0,131.95 L207.5,131.09 L208.0,130.22 L208.5,129.34 L209.0,128.47 L209.5,127.58 L210.0,126.70 L210.5,125.80 L211.0,124.90 L211.5,123.99 L212.0,123.08 L212.5,122.15 L213.0,121.22 L213.5,120.28 L214.0,119.33 L214.5,118.37 L215.0,117.40 L215.5,116.43 L216.0,115.44 L216.5,114.45 L217.0,113.46 L217.5,112.46 L218.0,111.45 L218.5,110.45 L219.0,109.44 L219.5,108.43 L220.0,107.42 L220.5,106.41 L221.0,105.41 L221.5,104.41 L222.0,103.41 L222.5,102.42 L223.0,101.43 L223.5,100.45 L224.0,99.48 L224.5,98.51 L225.0,97.56 L225.5,96.60 L226.0,95.66 L226.5,94.73 L227.0,93.81 L227.5,92.90 L228.0,92.00 L228.5,91.13 L229.0,90.27 L229.5,89.42 L230.0,88.60 L230.5,87.81 L231.0,87.03 L231.5,86.27 L232.0,85.54 L232.5,84.83 L233.0,84.14 L233.5,83.47 L234.0,82.83 L234.5,82.21 L235.0,81.61 L235.5,81.04 L236.0,80.49 L236.5,79.96 L237.0,79.45 L237.5,78.97 L238.0,78.50 L238.5,78.07 L239.0,77.65 L239.5,77.26 L240.0,76.89 L240.5,76.55 L241.0,76.23 L241.5,75.93 L242.0,75.65 L242.5,75.39 L243.0,75.15 L243.5,74.93 L244.0,74.74 L244.5,74.38 L245.0,74.21 L245.5,74.05 L246.0,73.90 L246.5,73.78 L247.0,73.65 L247.5,73.52 L248.0,73.43 L248.5,73.40 L249.0,73.54 L249.5,73.92 L250.0,74.50 L250.5,76.79 L251.0,81.18 L251.5,86.00 L252.0,90.95 L252.5,96.47 L253.0,102.00 L253.5,107.44 L254.0,113.01 L254.5,118.57 L255.0,124.01 L255.5,129.20 L256.0,134.00 L256.5,138.59 L257.0,143.13 L257.5,147.47 L258.0,151.49 L258.5,155.05 L259.0,158.00 L259.5,160.65 L260.0,163.12 L260.5,165.03 L261.0,166.00 L261.5,166.33 L262.0,166.58 L262.5,166.74 L263.0,166.80 L263.5,166.80 L264.0,166.80 L264.5,166.80 L265.0,166.80 L265.5,166.80 L266.0,166.80 L266.5,166.80 L267.0,166.80 L267.5,166.80 L268.0,166.80 L268.5,166.80 L269.0,166.80 L269.5,166.80 L270.0,166.80 L270.5,166.80 L271.0,166.80 L271.5,166.80 L272.0,166.80 L272.5,166.80 L273.0,166.80 L273.5,166.80 L274.0,166.80 L274.5,166.80 L275.0,166.80 L275.5,166.80 L276.0,166.80 L276.5,166.80 L277.0,166.80 L277.5,166.80 L278.0,166.80 L278.5,166.80 L279.0,166.80 L279.5,166.80 L280.0,166.80 L280.5,166.80 L281.0,166.80 L281.5,166.80 L282.0,166.80 L282.5,166.80 L283.0,166.80 L283.5,166.80 L284.0,166.80 L284.5,166.80 L285.0,166.80 L285.5,166.80 L286.0,166.80 L286.5,166.80 L287.0,166.80 L287.5,167.58 L288.0,170.11 L288.5,173.56 L289.0,179.30 L289.5,186.76 L290.0,196.25 L290.5,205.64 L291.0,215.08 L291.5,222.85 L292.0,229.21 L292.5,234.90 L293.0,240.36 L293.5,245.19 L294.0,249.05 L294.5,252.25 L295.0,254.11 L295.5,255.44 L296.0,256.22 L296.5,256.29 L297.0,256.23 L297.5,256.12 L298.0,255.97 L298.5,255.80 L299.0,255.61 L299.5,255.40 L300.0,254.88 L300.5,254.67 L301.0,254.42 L301.5,254.14 L302.0,253.83 L302.5,253.49 L303.0,253.13 L303.5,252.74 L304.0,252.34 L304.5,251.91 L305.0,251.46 L305.5,251.00 L306.0,250.52 L306.5,250.02 L307.0,249.50 L307.5,248.97 L308.0,248.41 L308.5,247.85 L309.0,247.27 L309.5,246.67 L310.0,246.05 L310.5,245.43 L311.0,244.78 L311.5,244.12 L312.0,243.44 L312.5,242.75 L313.0,242.03 L313.5,241.30 L314.0,240.55 L314.5,239.78 L315.0,238.99 L315.5,238.18 L316.0,237.36 L316.5,236.52 L317.0,235.66 L317.5,234.79 L318.0,233.91 L318.5,233.02 L319.0,232.12 L319.5,231.22 L320.0,230.31 L320.5,229.40 L321.0,228.48 L321.5,227.56 L322.0,226.64 L322.5,225.73 L323.0,224.82 L323.5,223.91 L324.0,223.01 L324.5,222.11 L325.0,221.22 L325.5,220.34 L326.0,219.45 L326.5,218.56 L327.0,217.67 L327.5,216.77 L328.0,215.86 L328.5,214.93 L329.0,213.98 L329.5,213.01 L330.0,212.01 L330.5,210.99 L331.0,209.94 L331.5,208.87 L332.0,207.78 L332.5,206.66 L333.0,205.53 L333.5,204.39 L334.0,203.24 L334.5,202.07 L335.0,200.91 L335.5,199.75 L336.0,198.58 L336.5,197.43 L337.0,196.28 L337.5,195.15 L338.0,194.03 L338.5,192.92 L339.0,191.83 L339.5,190.75 L340.0,189.69 L340.5,188.65 L341.0,187.62 L341.5,186.59 L342.0,185.58 L342.5,184.58 L343.0,183.59 L343.5,182.60 L344.0,181.61 L344.5,180.63 L345.0,179.65 L345.5,178.68 L346.0,177.70 L346.5,176.73 L347.0,175.77 L347.5,174.80 L348.0,173.84 L348.5,172.88 L349.0,171.92 L349.5,170.97 L350.0,170.02 L350.5,169.07 L351.0,168.13 L351.5,167.19 L352.0,166.25 L352.5,165.32 L353.0,164.40 L353.5,163.49 L354.0,162.58 L354.5,161.69 L355.0,160.80 L355.5,159.92 L356.0,159.06 L356.5,158.20 L357.0,157.35 L357.5,156.50 L358.0,155.65 L358.5,154.81 L359.0,153.97 L359.5,153.12 L360.0,152.27 L360.5,151.42 L361.0,150.56 L361.5,149.69 L362.0,148.82 L362.5,147.94 L363.0,147.06 L363.5,146.17 L364.0,145.28 L364.5,144.38 L365.0,143.47 L365.5,142.56 L366.0,141.65 L366.5,140.73 L367.0,139.82 L367.5,138.90 L368.0,137.99 L368.5,137.09 L369.0,136.20 L369.5,135.33 L370.0,134.49 L370.5,133.68 L371.0,132.90 L371.5,132.17 L372.0,131.47 L372.5,130.81 L373.0,130.19 L373.5,129.60 L374.0,129.05 L374.5,128.52 L375.0,128.03 L375.5,127.55 L376.0,127.09 L376.5,126.65 L377.0,126.23 L377.5,125.81 L378.0,125.41 L378.5,125.02 L379.0,124.64 L379.5,124.28 L380.0,123.93 L380.5,123.60 L381.0,123.28 L381.5,122.98 L382.0,122.70 L382.5,122.44 L383.0,122.20 L383.5,121.99 L384.0,121.79 L384.5,121.61 L385.0,121.46 L385.5,121.33 L386.0,121.21 L386.5,120.89 L387.0,120.82 L387.5,120.80 L388.0,120.80 L388.5,120.80 L389.0,120.80 L389.5,120.82 L390.0,120.87 L390.5,120.95 L391.0,121.05 L391.5,121.17 L392.0,121.38 L392.5,121.54 L393.0,121.71 L393.5,121.91 L394.0,122.12 L394.5,122.37 L395.0,122.63 L395.5,122.90 L396.0,123.20 L396.5,123.50 L397.0,123.81 L397.5,124.12 L398.0,124.44 L398.5,124.77 L399.0,125.11 L399.5,125.46 L400.0,125.82 L400.5,126.20 L401.0,126.60 L401.5,127.02 L402.0,127.46 L402.5,127.91 L403.0,128.39 L403.5,128.88 L404.0,129.39 L404.5,129.91 L405.0,130.44 L405.5,130.98 L406.0,131.53 L406.5,132.09 L407.0,132.65 L407.5,133.22 L408.0,133.81 L408.5,134.40 L409.0,135.01 L409.5,135.63 L410.0,136.26 L410.5,136.91 L411.0,137.58 L411.5,138.26 L412.0,138.96 L412.5,139.67 L413.0,140.40 L413.5,141.15 L414.0,141.90 L414.5,142.67 L415.0,143.46 L415.5,144.25 L416.0,145.05 L416.5,145.86 L417.0,146.69 L417.5,147.52 L418.0,148.37 L418.5,149.22 L419.0,150.07 L419.5,150.93 L420.0,151.79 L420.5,152.65 L421.0,153.51 L421.5,154.38 L422.0,155.24 L422.5,156.09 L423.0,156.94 L423.5,157.77 L424.0,158.58 L424.5,159.37 L425.0,160.12 L425.5,160.84 L426.0,161.53 L426.5,162.18 L427.0,162.79 L427.5,163.36 L428.0,163.89 L428.5,164.37 L429.0,164.81 L429.5,165.21 L430.0,165.56 L430.5,165.88 L431.0,166.15 L431.5,166.38 L432.0,166.56 L432.5,166.69 L433.0,166.78 L433.5,166.83 L434.0,166.84 L434.5,166.82 L435.0,166.79 L435.5,166.73 L436.0,166.67 L436.5,166.60 L437.0,166.53 L437.5,166.46 L438.0,166.40 L438.5,166.35 L439.0,166.30 L439.5,166.27 L440.0,166.24 L440.5,166.22 L441.0,166.21 L441.5,166.21 L442.0,166.20 L442.5,166.20 L443.0,166.20 L443.5,166.20 L444.0,166.20 L444.5,166.20 L445.0,166.20 L445.5,166.20 L446.0,166.20 L446.5,166.20 L447.0,166.20 L447.5,166.20 L448.0,166.20 L448.5,166.20 L449.0,166.20 L449.5,166.20 L450.0,166.20 L450.5,166.20 L451.0,166.20 L451.5,166.20 L452.0,166.20 L452.5,166.20 L453.0,166.20 L453.5,166.20 L454.0,166.20 L454.5,166.20 L455.0,166.20 L455.5,166.20 L456.0,166.20 L456.5,166.20 L457.0,166.20 L457.5,166.20 L458.0,166.20 L458.5,166.20 L459.0,166.20 L459.5,166.20 L460.0,166.20 L460.5,166.20 L461.0,166.20 L461.5,166.20 L462.0,166.20 L462.5,166.20 L463.0,166.20 L463.5,166.20 L464.0,166.20 L464.5,166.20 L465.0,166.20 L465.5,166.20 L466.0,166.20 L466.5,166.20 L467.0,166.20 L467.5,166.20 L468.0,166.20 L468.5,166.20 L469.0,166.20 L469.5,166.20 L470.0,166.20 L470.5,166.20 L471.0,166.20 L471.5,166.20 L472.0,166.20 L472.5,166.20 L473.0,166.20 L473.5,166.20 L474.0,166.20 L474.5,166.20 L475.0,166.20 L475.5,166.20 L476.0,166.20 L476.5,166.20 L477.0,166.20 L477.5,166.20 L478.0,166.20 L478.5,166.20 L479.0,166.20 L479.5,166.20 L480.0,166.20 L480.5,166.20 L481.0,166.20 L481.5,166.20 L482.0,166.20 L482.5,166.20 L483.0,166.20 L483.5,166.20 L484.0,166.20 L484.5,166.20 L485.0,166.20 L485.5,166.20 L486.0,166.20 L486.5,166.20 L487.0,166.20 L487.5,166.20 L488.0,166.20 L488.5,166.20 L489.0,166.20 L489.5,166.20 L490.0,166.20 L490.5,166.20 L491.0,166.20 L491.5,166.20 L492.0,166.20 L492.5,166.20 L493.0,166.20 L493.5,166.20 L494.0,166.20 L494.5,166.20 L495.0,166.20 L495.5,166.20 L496.0,166.20 L496.5,166.20 L497.0,166.20 L497.5,166.20 L498.0,166.20 L498.5,166.20 L499.0,166.20 L499.5,166.20 L500.0,166.20 L500.5,166.20 L501.0,166.20 L501.5,166.20 L502.0,166.20 L502.5,166.20 L503.0,166.20 L503.5,166.20 L504.0,166.20 L504.5,166.20 L505.0,166.20 L505.5,166.20 L506.0,166.20 L506.5,166.20 L507.0,166.20 L507.5,166.20 L508.0,166.20 L508.5,166.20 L509.0,166.20 L509.5,166.20 L510.0,166.20 L510.5,166.20 L511.0,166.20 L511.5,166.20 L512.0,166.20 L512.5,166.20 L513.0,166.20 L513.5,166.20 L514.0,166.20 L514.5,166.20 L515.0,166.20 L515.5,166.20 L516.0,166.20 L516.5,166.20 L517.0,166.20 L517.5,166.20 L518.0,166.20 L518.5,166.20 L519.0,166.20 L519.5,166.20 L520.0,166.20 L520.5,166.20 L521.0,166.20 L521.5,166.20 L522.0,166.20 L522.5,166.20 L523.0,166.20 L523.5,166.20 L524.0,166.20 L524.5,166.20 L525.0,166.20" stroke="#22c822"/><path d="M63.0,166.80 L63.5,166.80 L64.0,166.80 L64.5,166.80 L65.0,166.80 L65.5,166.80 L66.0,166.80 L66.5,166.80 L67.0,166.80 L67.5,166.80 L68.0,166.80 L68.5,166.80 L69.0,166.80 L69.5,166.80 L70.0,166.80 L70.5,166.80 L71.0,166.80 L71.5,166.80 L72.0,166.80 L72.5,166.80 L73.0,166.80 L73.5,166.80 L74.0,166.80 L74.5,166.80 L75.0,166.80 L75.5,166.80 L76.0,166.80 L76.5,166.80 L77.0,166.80 L77.5,166.80 L78.0,166.80 L78.5,166.80 L79.0,166.80 L79.5,166.80 L80.0,166.80 L80.5,166.80 L81.0,166.80 L81.5,166.80 L82.0,166.80 L82.5,166.80 L83.0,166.80 L83.5,166.80 L84.0,166.80 L84.5,166.80 L85.0,166.80 L85.5,166.80 L86.0,166.80 L86.5,166.80 L87.0,166.80 L87.5,166.80 L88.0,166.80 L88.5,166.80 L89.0,166.80 L89.5,166.80 L90.0,166.80 L90.5,166.80 L91.0,166.80 L91.5,166.80 L92.0,166.80 L92.5,166.80 L93.0,166.80 L93.5,166.80 L94.0,166.80 L94.5,166.80 L95.0,166.80 L95.5,166.80 L96.0,166.80 L96.5,166.80 L97.0,166.80 L97.5,166.80 L98.0,166.80 L98.5,166.80 L99.0,166.80 L99.5,166.80 L100.0,166.80 L100.5,166.80 L101.0,166.80 L101.5,166.80 L102.0,166.80 L102.5,166.80 L103.0,166.80 L103.5,166.80 L104.0,166.80 L104.5,166.80 L105.0,166.80 L105.5,166.80 L106.0,166.80 L106.5,166.80 L107.0,166.80 L107.5,166.80 L108.0,166.80 L108.5,166.80 L109.0,166.80 L109.5,166.80 L110.0,166.80 L110.5,166.80 L111.0,166.80 L111.5,166.80 L112.0,166.80 L112.5,166.92 L113.0,167.00 L113.5,167.10 L114.0,167.23 L114.5,167.37 L115.0,167.53 L115.5,167.70 L116.0,167.89 L116.5,168.10 L117.0,168.32 L117.5,168.56 L118.0,168.82 L118.5,169.10 L119.0,169.41 L119.5,169.76 L120.0,170.14 L120.5,170.57 L121.0,171.04 L121.5,171.58 L122.0,172.16 L122.5,172.79 L123.0,173.47 L123.5,174.17 L124.0,174.91 L124.5,175.66 L125.0,176.43 L125.5,177.20 L126.0,177.96 L126.5,178.71 L127.0,179.44 L127.5,180.16 L128.0,180.86 L128.5,181.54 L129.0,182.22 L129.5,182.88 L130.0,183.55 L130.5,184.21 L131.0,184.87 L131.5,185.54 L132.0,186.22 L132.5,186.91 L133.0,187.61 L133.5,188.33 L134.0,189.06 L134.5,189.81 L135.0,190.58 L135.5,191.36 L136.0,192.17 L136.5,192.98 L137.0,193.80 L137.5,194.63 L138.0,195.46 L138.5,196.28 L139.0,197.10 L139.5,197.91 L140.0,198.71 L140.5,199.50 L141.0,200.28 L141.5,201.05 L142.0,201.81 L142.5,202.57 L143.0,203.32 L143.5,204.07 L144.0,204.80 L144.5,205.53 L145.0,206.24 L145.5,206.94 L146.0,207.63 L146.5,208.30 L147.0,208.96 L147.5,209.61 L148.0,210.24 L148.5,210.87 L149.0,211.48 L149.5,212.08 L150.0,212.63 L150.5,213.33 L151.0,213.82 L151.5,214.22 L152.0,214.50 L152.5,214.71 L153.0,214.92 L153.5,215.10 L154.0,215.27 L154.5,215.41 L155.0,215.51 L155.5,215.58 L156.0,215.60 L156.5,215.58 L157.0,215.53 L157.5,215.46 L158.0,215.35 L158.5,215.23 L159.0,215.10 L159.5,214.95 L160.0,214.49 L160.5,214.25 L161.0,213.99 L161.5,213.69 L162.0,213.36 L162.5,213.00 L163.0,212.60 L163.5,212.18 L164.0,211.72 L164.5,211.23 L165.0,210.71 L165.5,210.16 L166.0,209.57 L166.5,208.96 L167.0,208.31 L167.5,207.62 L168.0,206.90 L168.5,206.15 L169.0,205.36 L169.5,204.54 L170.0,203.69 L170.5,202.80 L171.0,201.89 L171.5,200.95 L172.0,199.99 L172.5,199.00 L173.0,197.98 L173.5,196.94 L174.0,195.88 L174.5,194.80 L175.0,193.70 L175.5,192.57 L176.0,191.43 L176.5,190.27 L177.0,189.09 L177.5,187.91 L178.0,186.72 L178.5,185.53 L179.0,184.34 L179.5,183.17 L180.0,182.02 L180.5,180.89 L181.0,179.79 L181.5,178.72 L182.0,177.67 L182.5,176.65 L183.0,175.66 L183.5,174.69 L184.0,173.74 L184.5,172.82 L185.0,171.91 L185.5,171.02 L186.0,170.14 L186.5,169.28 L187.0,168.43 L187.5,167.59 L188.0,166.77 L188.5,165.95 L189.0,165.13 L189.5,164.32 L190.0,163.51 L190.5,162.69 L191.0,161.88 L191.5,161.05 L192.0,160.22 L192.5,159.38 L193.0,158.53 L193.5,157.67 L194.0,156.80 L194.5,155.92 L195.0,155.04 L195.5,154.15 L196.0,153.25 L196.5,152.35 L197.0,151.44 L197.5,150.54 L198.0,149.63 L198.5,148.71 L199.0,147.80 L199.5,146.88 L200.0,145.96 L200.5,145.03 L201.0,144.10 L201.5,143.17 L202.0,142.23 L202.5,141.28 L203.0,140.33 L203.5,139.38 L204.0,138.42 L204.5,137.45 L205.0,136.48 L205.5,135.51 L206.0,134.53 L206.5,133.54 L207.0,132.55 L207.5,131.56 L208.0,130.56 L208.5,129.55 L209.0,128.54 L209.5,127.52 L210.0,126.49 L210.5,125.46 L211.0,124.42 L211.5,123.37 L212.0,122.31 L212.5,121.24 L213.0,120.16 L213.5,119.07 L214.0,117.97 L214.5,116.85 L215.0,115.72 L215.5,114.59 L216.0,113.44 L216.5,112.29 L217.0,111.12 L217.5,109.96 L218.0,108.79 L218.5,107.62 L219.0,106.45 L219.5,105.28 L220.0,104.12 L220.5,102.96 L221.0,101.82 L221.5,100.68 L222.0,99.56 L222.5,98.46 L223.0,97.36 L223.5,96.29 L224.0,95.23 L224.5,94.19 L225.0,93.17 L225.5,92.16 L226.0,91.18 L226.5,90.22 L227.0,89.27 L227.5,88.36 L228.0,87.46 L228.5,86.60 L229.0,85.76 L229.5,84.95 L230.0,84.17 L230.5,83.42 L231.0,82.70 L231.5,82.01 L232.0,81.35 L232.5,80.71 L233.0,80.10 L233.5,79.50 L234.0,78.93 L234.5,78.38 L235.0,77.85 L235.5,77.33 L236.0,76.83 L236.5,76.35 L237.0,75.89 L237.5,75.44 L238.0,75.01 L238.5,74.61 L239.0,74.23 L239.5,73.87 L240.0,73.54 L240.5,73.23 L241.0,72.94 L241.5,72.68 L242.0,72.45 L242.5,72.23 L243.0,72.04 L243.5,71.88 L244.0,71.74 L244.5,71.37 L245.0,71.25 L245.5,71.16 L246.0,71.11 L246.5,71.10 L247.0,71.10 L247.5,71.10 L248.0,71.10 L248.5,71.10 L249.0,71.10 L249.5,71.23 L250.0,72.52 L250.5,74.81 L251.0,78.84 L251.5,86.24 L252.0,91.54 L252.5,95.58 L253.0,99.44 L253.5,103.86 L254.0,108.80 L254.5,114.04 L255.0,119.44 L255.5,124.83 L256.0,130.07 L256.5,135.00 L257.0,139.78 L257.5,144.53 L258.0,149.09 L258.5,153.30 L259.0,157.00 L259.5,160.57 L260.0,163.78 L260.5,165.50 L261.0,166.04 L261.5,166.45 L262.0,166.71 L262.5,166.80 L263.0,166.80 L263.5,166.80 L264.0,166.80 L264.5,166.80 L265.0,166.80 L265.5,166.80 L266.0,166.80 L266.5,166.80 L267.0,166.80 L267.5,166.80 L268.0,166.80 L268.5,166.80 L269.0,166.80 L269.5,166.80 L270.0,166.80 L270.5,166.80 L271.0,166.80 L271.5,166.80 L272.0,166.80 L272.5,166.80 L273.0,166.80 L273.5,166.80 L274.0,166.80 L274.5,166.80 L275.0,166.80 L275.5,166.80 L276.0,166.80 L276.5,166.80 L277.0,166.80 L277.5,166.80 L278.0,166.80 L278.5,166.80 L279.0,166.80 L279.5,166.80 L280.0,166.80 L280.5,166.80 L281.0,166.80 L281.5,166.80 L282.0,166.80 L282.5,166.80 L283.0,166.80 L283.5,166.80 L284.0,166.80 L284.5,166.80 L285.0,166.80 L285.5,166.80 L286.0,166.80 L286.5,166.80 L287.0,166.80 L287.5,167.58 L288.0,170.11 L288.5,173.56 L289.0,179.30 L289.5,186.76 L290.0,196.25 L290.5,205.64 L291.0,215.08 L291.5,222.85 L292.0,229.21 L292.5,234.90 L293.0,240.36 L293.5,245.19 L294.0,249.02 L294.5,252.19 L295.0,254.18 L295.5,255.66 L296.0,256.30 L296.5,256.25 L297.0,256.11 L297.5,255.90 L298.0,255.63 L298.5,255.33 L299.0,255.02 L299.5,254.70 L300.0,254.22 L300.5,253.95 L301.0,253.65 L301.5,253.33 L302.0,252.98 L302.5,252.62 L303.0,252.24 L303.5,251.84 L304.0,251.42 L304.5,250.98 L305.0,250.52 L305.5,250.05 L306.0,249.55 L306.5,249.03 L307.0,248.50 L307.5,247.95 L308.0,247.38 L308.5,246.80 L309.0,246.20 L309.5,245.58 L310.0,244.95 L310.5,244.31 L311.0,243.65 L311.5,242.98 L312.0,242.29 L312.5,241.58 L313.0,240.86 L313.5,240.12 L314.0,239.36 L314.5,238.58 L315.0,237.78 L315.5,236.96 L316.0,236.13 L316.5,235.27 L317.0,234.40 L317.5,233.51 L318.0,232.61 L318.5,231.69 L319.0,230.76 L319.5,229.81 L320.0,228.86 L320.5,227.90 L321.0,226.93 L321.5,225.96 L322.0,224.99 L322.5,224.02 L323.0,223.06 L323.5,222.10 L324.0,221.15 L324.5,220.21 L325.0,219.27 L325.5,218.34 L326.0,217.41 L326.5,216.47 L327.0,215.53 L327.5,214.58 L328.0,213.62 L328.5,212.64 L329.0,211.65 L329.5,210.65 L330.0,209.63 L330.5,208.59 L331.0,207.55 L331.5,206.49 L332.0,205.42 L332.5,204.34 L333.0,203.25 L333.5,202.16 L334.0,201.06 L334.5,199.96 L335.0,198.86 L335.5,197.76 L336.0,196.66 L336.5,195.56 L337.0,194.46 L337.5,193.37 L338.0,192.27 L338.5,191.19 L339.0,190.10 L339.5,189.03 L340.0,187.95 L340.5,186.88 L341.0,185.81 L341.5,184.75 L342.0,183.70 L342.5,182.65 L343.0,181.60 L343.5,180.57 L344.0,179.54 L344.5,178.52 L345.0,177.50 L345.5,176.50 L346.0,175.50 L346.5,174.52 L347.0,173.54 L347.5,172.58 L348.0,171.63 L348.5,170.69 L349.0,169.77 L349.5,168.85 L350.0,167.95 L350.5,167.07 L351.0,166.19 L351.5,165.33 L352.0,164.48 L352.5,163.64 L353.0,162.82 L353.5,162.01 L354.0,161.21 L354.5,160.42 L355.0,159.64 L355.5,158.88 L356.0,158.13 L356.5,157.38 L357.0,156.65 L357.5,155.92 L358.0,155.20 L358.5,154.47 L359.0,153.74 L359.5,153.01 L360.0,152.26 L360.5,151.50 L361.0,150.73 L361.5,149.95 L362.0,149.15 L362.5,148.33 L363.0,147.49 L363.5,146.65 L364.0,145.79 L364.5,144.92 L365.0,144.05 L365.5,143.18 L366.0,142.30 L366.5,141.42 L367.0,140.55 L367.5,139.68 L368.0,138.81 L368.5,137.95 L369.0,137.10 L369.5,136.25 L370.0,135.42 L370.5,134.59 L371.0,133.78 L371.5,132.97 L372.0,132.18 L372.5,131.41 L373.0,130.65 L373.5,129.91 L374.0,129.19 L374.5,128.49 L375.0,127.81 L375.5,127.15 L376.0,126.52 L376.5,125.92 L377.0,125.34 L377.5,124.80 L378.0,124.28 L378.5,123.79 L379.0,123.32 L379.5,122.88 L380.0,122.47 L380.5,122.08 L381.0,121.72 L381.5,121.38 L382.0,121.06 L382.5,120.76 L383.0,120.49 L383.5,120.24 L384.0,120.01 L384.5,119.81 L385.0,119.63 L385.5,119.47 L386.0,119.34 L386.5,118.91 L387.0,118.83 L387.5,118.80 L388.0,118.81 L388.5,118.86 L389.0,118.93 L389.5,119.03 L390.0,119.15 L390.5,119.29 L391.0,119.45 L391.5,119.63 L392.0,119.91 L392.5,120.12 L393.0,120.35 L393.5,120.59 L394.0,120.87 L394.5,121.17 L395.0,121.51 L395.5,121.89 L396.0,122.33 L396.5,122.81 L397.0,123.35 L397.5,123.94 L398.0,124.58 L398.5,125.27 L399.0,126.00 L399.5,126.77 L400.0,127.58 L400.5,128.43 L401.0,129.33 L401.5,130.27 L402.0,131.27 L402.5,132.31 L403.0,133.41 L403.5,134.55 L404.0,135.75 L404.5,137.00 L405.0,138.30 L405.5,139.67 L406.0,141.10 L406.5,142.60 L407.0,144.15 L407.5,145.74 L408.0,147.34 L408.5,148.93 L409.0,150.48 L409.5,151.98 L410.0,153.40 L410.5,154.74 L411.0,156.01 L411.5,157.19 L412.0,158.29 L412.5,159.31 L413.0,160.26 L413.5,161.14 L414.0,161.95 L414.5,162.71 L415.0,163.40 L415.5,164.04 L416.0,164.63 L416.5,165.15 L417.0,165.61 L417.5,166.02 L418.0,166.38 L418.5,166.69 L419.0,166.96 L419.5,167.20 L420.0,167.41 L420.5,167.60 L421.0,167.76 L421.5,167.91 L422.0,168.03 L422.5,168.13 L423.0,168.21 L423.5,168.27 L424.0,168.31 L424.5,168.33 L425.0,168.33 L425.5,168.32 L426.0,168.30 L426.5,168.27 L427.0,168.24 L427.5,168.20 L428.0,168.15 L428.5,168.10 L429.0,168.05 L429.5,168.00 L430.0,167.94 L430.5,167.88 L431.0,167.82 L431.5,167.75 L432.0,167.68 L432.5,167.61 L433.0,167.53 L433.5,167.44 L434.0,167.35 L434.5,167.26 L435.0,167.17 L435.5,167.08 L436.0,166.99 L436.5,166.90 L437.0,166.82 L437.5,166.75 L438.0,166.69 L438.5,166.64 L439.0,166.59 L439.5,166.56 L440.0,166.54 L440.5,166.52 L441.0,166.51 L441.5,166.51 L442.0,166.50 L442.5,166.50 L443.0,166.50 L443.5,166.50 L444.0,166.50 L444.5,166.50 L445.0,166.50 L445.5,166.50 L446.0,166.50 L446.5,166.50 L447.0,166.50 L447.5,166.50 L448.0,166.50 L448.5,166.50 L449.0,166.50 L449.5,166.50 L450.0,166.50 L450.5,166.50 L451.0,166.50 L451.5,166.50 L452.0,166.50 L452.5,166.50 L453.0,166.50 L453.5,166.50 L454.0,166.50 L454.5,166.50 L455.0,166.50 L455.5,166.50 L456.0,166.50 L456.5,166.50 L457.0,166.50 L457.5,166.50 L458.0,166.50 L458.5,166.50 L459.0,166.50 L459.5,166.50 L460.0,166.50 L460.5,166.50 L461.0,166.50 L461.5,166.50 L462.0,166.50 L462.5,166.50 L463.0,166.50 L463.5,166.50 L464.0,166.50 L464.5,166.50 L465.0,166.50 L465.5,166.50 L466.0,166.50 L466.5,166.50 L467.0,166.50 L467.5,166.50 L468.0,166.50 L468.5,166.50 L469.0,166.50 L469.5,166.50 L470.0,166.50 L470.5,166.50 L471.0,166.50 L471.5,166.50 L472.0,166.50 L472.5,166.50 L473.0,166.50 L473.5,166.50 L474.0,166.50 L474.5,166.50 L475.0,166.50 L475.5,166.50 L476.0,166.50 L476.5,166.50 L477.0,166.50 L477.5,166.50 L478.0,166.50 L478.5,166.50 L479.0,166.50 L479.5,166.50 L480.0,166.50 L480.5,166.50 L481.0,166.50 L481.5,166.50 L482.0,166.50 L482.5,166.50 L483.0,166.50 L483.5,166.50 L484.0,166.50 L484.5,166.50 L485.0,166.50 L485.5,166.50 L486.0,166.50 L486.5,166.50 L487.0,166.50 L487.5,166.50 L488.0,166.50 L488.5,166.50 L489.0,166.50 L489.5,166.50 L490.0,166.50 L490.5,166.50 L491.0,166.50 L491.5,166.50 L492.0,166.50 L492.5,166.50 L493.0,166.50 L493.5,166.50 L494.0,166.50 L494.5,166.50 L495.0,166.50 L495.5,166.50 L496.0,166.50 L496.5,166.50 L497.0,166.50 L497.5,166.50 L498.0,166.50 L498.5,166.50 L499.0,166.50 L499.5,166.50 L500.0,166.50 L500.5,166.50 L501.0,166.50 L501.5,166.50 L502.0,166.50 L502.5,166.50 L503.0,166.50 L503.5,166.50 L504.0,166.50 L504.5,166.50 L505.0,166.50 L505.5,166.50 L506.0,166.50 L506.5,166.50 L507.0,166.50 L507.5,166.50 L508.0,166.50 L508.5,166.50 L509.0,166.50 L509.5,166.50 L510.0,166.50 L510.5,166.50 L511.0,166.50 L511.5,166.50 L512.0,166.50 L512.5,166.50 L513.0,166.50 L513.5,166.50 L514.0,166.50 L514.5,166.50 L515.0,166.50 L515.5,166.50 L516.0,166.50 L516.5,166.50 L517.0,166.50 L517.5,166.50 L518.0,166.50 L518.5,166.50 L519.0,166.50 L519.5,166.50 L520.0,166.50 L520.5,166.50 L521.0,166.50 L521.5,166.50 L522.0,166.50 L522.5,166.50 L523.0,166.50 L523.5,166.50 L524.0,166.50 L524.5,166.50 L525.0,166.50" stroke="#2a2aff"/><path d="M63.0,166.80 L63.5,166.80 L64.0,166.80 L64.5,166.80 L65.0,166.80 L65.5,166.80 L66.0,166.80 L66.5,166.80 L67.0,166.80 L67.5,166.80 L68.0,166.80 L68.5,166.80 L69.0,166.80 L69.5,166.80 L70.0,166.80 L70.5,166.80 L71.0,166.80 L71.5,166.80 L72.0,166.80 L72.5,166.80 L73.0,166.80 L73.5,166.80 L74.0,166.80 L74.5,166.80 L75.0,166.80 L75.5,166.80 L76.0,166.80 L76.5,166.80 L77.0,166.80 L77.5,166.80 L78.0,166.80 L78.5,166.80 L79.0,166.80 L79.5,166.80 L80.0,166.80 L80.5,166.80 L81.0,166.80 L81.5,166.80 L82.0,166.80 L82.5,166.80 L83.0,166.80 L83.5,166.80 L84.0,166.80 L84.5,166.80 L85.0,166.80 L85.5,166.80 L86.0,166.80 L86.5,166.80 L87.0,166.80 L87.5,166.80 L88.0,166.80 L88.5,166.80 L89.0,166.80 L89.5,166.80 L90.0,166.80 L90.5,166.80 L91.0,166.80 L91.5,166.80 L92.0,166.80 L92.5,166.80 L93.0,166.80 L93.5,166.80 L94.0,166.80 L94.5,166.80 L95.0,166.80 L95.5,166.80 L96.0,166.80 L96.5,166.80 L97.0,166.80 L97.5,166.80 L98.0,166.80 L98.5,166.80 L99.0,166.80 L99.5,166.80 L100.0,166.80 L100.5,166.80 L101.0,166.80 L101.5,166.80 L102.0,166.80 L102.5,166.80 L103.0,166.80 L103.5,166.80 L104.0,166.80 L104.5,166.80 L105.0,166.82 L105.5,166.83 L106.0,166.86 L106.5,166.89 L107.0,166.92 L107.5,166.96 L108.0,167.00 L108.5,167.06 L109.0,167.14 L109.5,167.25 L110.0,167.38 L110.5,167.53 L111.0,167.70 L111.5,167.89 L112.0,168.09 L112.5,168.34 L113.0,168.57 L113.5,168.81 L114.0,169.07 L114.5,169.35 L115.0,169.66 L115.5,170.00 L116.0,170.37 L116.5,170.76 L117.0,171.18 L117.5,171.62 L118.0,172.08 L118.5,172.57 L119.0,173.07 L119.5,173.59 L120.0,174.15 L120.5,174.72 L121.0,175.33 L121.5,175.95 L122.0,176.59 L122.5,177.24 L123.0,177.90 L123.5,178.56 L124.0,179.23 L124.5,179.89 L125.0,180.55 L125.5,181.21 L126.0,181.88 L126.5,182.55 L127.0,183.23 L127.5,183.91 L128.0,184.60 L128.5,185.31 L129.0,186.02 L129.5,186.76 L130.0,187.52 L130.5,188.29 L131.0,189.10 L131.5,189.94 L132.0,190.81 L132.5,191.71 L133.0,192.63 L133.5,193.57 L134.0,194.52 L134.5,195.47 L135.0,196.41 L135.5,197.33 L136.0,198.22 L136.5,199.08 L137.0,199.90 L137.5,200.70 L138.0,201.47 L138.5,202.22 L139.0,202.95 L139.5,203.67 L140.0,204.36 L140.5,205.05 L141.0,205.72 L141.5,206.37 L142.0,207.01 L142.5,207.63 L143.0,208.24 L143.5,208.83 L144.0,209.41 L144.5,209.97 L145.0,210.53 L145.5,211.07 L146.0,211.61 L146.5,212.13 L147.0,212.63 L147.5,213.12 L148.0,213.58 L148.5,214.01 L149.0,214.41 L149.5,214.79 L150.0,215.14 L150.5,215.50 L151.0,215.81 L151.5,216.11 L152.0,216.41 L152.5,216.69 L153.0,216.95 L153.5,217.19 L154.0,217.39 L154.5,217.56 L155.0,217.69 L155.5,217.77 L156.0,217.80 L156.5,217.77 L157.0,217.69 L157.5,217.57 L158.0,217.42 L158.5,217.23 L159.0,217.03 L159.5,216.82 L160.0,216.31 L160.5,216.04 L161.0,215.73 L161.5,215.39 L162.0,215.03 L162.5,214.64 L163.0,214.22 L163.5,213.78 L164.0,213.32 L164.5,212.83 L165.0,212.32 L165.5,211.79 L166.0,211.24 L166.5,210.67 L167.0,210.07 L167.5,209.46 L168.0,208.82 L168.5,208.16 L169.0,207.47 L169.5,206.76 L170.0,206.02 L170.5,205.25 L171.0,204.46 L171.5,203.63 L172.0,202.77 L172.5,201.88 L173.0,200.95 L173.5,199.99 L174.0,198.99 L174.5,197.95 L175.0,196.88 L175.5,195.78 L176.0,194.64 L176.5,193.47 L177.0,192.28 L177.5,191.06 L178.0,189.83 L178.5,188.58 L179.0,187.32 L179.5,186.05 L180.0,184.78 L180.5,183.51 L181.0,182.25 L181.5,181.00 L182.0,179.76 L182.5,178.54 L183.0,177.33 L183.5,176.13 L184.0,174.95 L184.5,173.78 L185.0,172.62 L185.5,171.48 L186.0,170.34 L186.5,169.22 L187.0,168.11 L187.5,167.01 L188.0,165.92 L188.5,164.85 L189.0,163.79 L189.5,162.75 L190.0,161.72 L190.5,160.71 L191.0,159.72 L191.5,158.75 L192.0,157.80 L192.5,156.85 L193.0,155.92 L193.5,155.00 L194.0,154.09 L194.5,153.18 L195.0,152.28 L195.5,151.37 L196.0,150.47 L196.5,149.57 L197.0,148.67 L197.5,147.76 L198.0,146.85 L198.5,145.95 L199.0,145.04 L199.5,144.14 L200.0,143.23 L200.5,142.33 L201.0,141.43 L201.5,140.52 L202.0,139.63 L202.5,138.73 L203.0,137.83 L203.5,136.94 L204.0,136.05 L204.5,135.16 L205.0,134.27 L205.5,133.38 L206.0,132.49 L206.5,131.61 L207.0,130.72 L207.5,129.82 L208.0,128.93 L208.5,128.03 L209.0,127.13 L209.5,126.23 L210.0,125.32 L210.5,124.40 L211.0,123.48 L211.5,122.55 L212.0,121.62 L212.5,120.67 L213.0,119.72 L213.5,118.76 L214.0,117.79 L214.5,116.81 L215.0,115.83 L215.5,114.83 L216.0,113.83 L216.5,112.83 L217.0,111.82 L217.5,110.80 L218.0,109.78 L218.5,108.76 L219.0,107.74 L219.5,106.71 L220.0,105.69 L220.5,104.67 L221.0,103.65 L221.5,102.63 L222.0,101.62 L222.5,100.61 L223.0,99.60 L223.5,98.60 L224.0,97.60 L224.5,96.61 L225.0,95.62 L225.5,94.64 L226.0,93.67 L226.5,92.71 L227.0,91.76 L227.5,90.83 L228.0,89.92 L228.5,89.03 L229.0,88.16 L229.5,87.33 L230.0,86.52 L230.5,85.74 L231.0,85.00 L231.5,84.28 L232.0,83.60 L232.5,82.94 L233.0,82.30 L233.5,81.69 L234.0,81.10 L234.5,80.53 L235.0,79.97 L235.5,79.43 L236.0,78.91 L236.5,78.41 L237.0,77.92 L237.5,77.45 L238.0,77.00 L238.5,76.57 L239.0,76.16 L239.5,75.78 L240.0,75.41 L240.5,75.08 L241.0,74.76 L241.5,74.47 L242.0,74.20 L242.5,73.95 L243.0,73.72 L243.5,73.50 L244.0,73.29 L244.5,73.04 L245.0,72.87 L245.5,72.71 L246.0,72.54 L246.5,72.36 L247.0,72.17 L247.5,71.95 L248.0,71.74 L248.5,71.57 L249.0,71.45 L249.5,71.40 L250.0,71.48 L250.5,71.69 L251.0,72.35 L251.5,74.60 L252.0,77.88 L252.5,81.44 L253.0,84.64 L253.5,87.90 L254.0,91.32 L254.5,94.78 L255.0,98.14 L255.5,102.00 L256.0,107.10 L256.5,113.29 L257.0,120.14 L257.5,127.17 L258.0,133.95 L258.5,140.00 L259.0,145.71 L259.5,151.34 L260.0,156.30 L260.5,160.00 L261.0,162.82 L261.5,165.10 L262.0,166.20 L262.5,166.46 L263.0,166.65 L263.5,166.76 L264.0,166.80 L264.5,166.80 L265.0,166.80 L265.5,166.80 L266.0,166.80 L266.5,166.80 L267.0,166.80 L267.5,166.80 L268.0,166.80 L268.5,166.80 L269.0,166.80 L269.5,166.80 L270.0,166.80 L270.5,166.80 L271.0,166.80 L271.5,166.80 L272.0,166.80 L272.5,166.80 L273.0,166.80 L273.5,166.80 L274.0,166.80 L274.5,166.80 L275.0,166.80 L275.5,166.80 L276.0,166.80 L276.5,166.80 L277.0,166.80 L277.5,166.80 L278.0,166.80 L278.5,166.80 L279.0,166.80 L279.5,166.80 L280.0,166.80 L280.5,166.80 L281.0,166.80 L281.5,166.80 L282.0,166.80 L282.5,166.80 L283.0,166.80 L283.5,166.80 L284.0,166.80 L284.5,166.80 L285.0,166.80 L285.5,166.80 L286.0,166.80 L286.5,166.80 L287.0,166.80 L287.5,167.58 L288.0,170.11 L288.5,173.56 L289.0,179.30 L289.5,186.76 L290.0,196.25 L290.5,205.64 L291.0,215.08 L291.5,222.85 L292.0,229.21 L292.5,234.90 L293.0,240.36 L293.5,245.19 L294.0,249.02 L294.5,252.19 L295.0,254.18 L295.5,255.66 L296.0,256.30 L296.5,256.23 L297.0,256.05 L297.5,255.79 L298.0,255.47 L298.5,255.12 L299.0,254.79 L299.5,254.48 L300.0,253.98 L300.5,253.70 L301.0,253.38 L301.5,253.03 L302.0,252.66 L302.5,252.27 L303.0,251.86 L303.5,251.43 L304.0,250.98 L304.5,250.51 L305.0,250.02 L305.5,249.51 L306.0,248.98 L306.5,248.43 L307.0,247.86 L307.5,247.28 L308.0,246.68 L308.5,246.07 L309.0,245.45 L309.5,244.82 L310.0,244.17 L310.5,243.51 L311.0,242.84 L311.5,242.16 L312.0,241.47 L312.5,240.76 L313.0,240.05 L313.5,239.32 L314.0,238.59 L314.5,237.84 L315.0,237.09 L315.5,236.33 L316.0,235.56 L316.5,234.80 L317.0,234.03 L317.5,233.27 L318.0,232.52 L318.5,231.76 L319.0,231.02 L319.5,230.28 L320.0,229.55 L320.5,228.82 L321.0,228.09 L321.5,227.36 L322.0,226.63 L322.5,225.89 L323.0,225.14 L323.5,224.38 L324.0,223.60 L324.5,222.82 L325.0,222.02 L325.5,221.20 L326.0,220.37 L326.5,219.52 L327.0,218.66 L327.5,217.78 L328.0,216.89 L328.5,215.99 L329.0,215.07 L329.5,214.13 L330.0,213.18 L330.5,212.22 L331.0,211.23 L331.5,210.23 L332.0,209.22 L332.5,208.19 L333.0,207.14 L333.5,206.08 L334.0,205.01 L334.5,203.93 L335.0,202.84 L335.5,201.75 L336.0,200.65 L336.5,199.55 L337.0,198.46 L337.5,197.37 L338.0,196.29 L338.5,195.22 L339.0,194.16 L339.5,193.12 L340.0,192.09 L340.5,191.08 L341.0,190.08 L341.5,189.10 L342.0,188.13 L342.5,187.18 L343.0,186.23 L343.5,185.30 L344.0,184.38 L344.5,183.46 L345.0,182.55 L345.5,181.65 L346.0,180.75 L346.5,179.85 L347.0,178.96 L347.5,178.06 L348.0,177.17 L348.5,176.28 L349.0,175.40 L349.5,174.51 L350.0,173.63 L350.5,172.74 L351.0,171.86 L351.5,170.98 L352.0,170.09 L352.5,169.21 L353.0,168.33 L353.5,167.45 L354.0,166.56 L354.5,165.67 L355.0,164.78 L355.5,163.89 L356.0,162.99 L356.5,162.08 L357.0,161.17 L357.5,160.25 L358.0,159.33 L358.5,158.39 L359.0,157.45 L359.5,156.50 L360.0,155.54 L360.5,154.57 L361.0,153.60 L361.5,152.63 L362.0,151.65 L362.5,150.67 L363.0,149.69 L363.5,148.71 L364.0,147.73 L364.5,146.74 L365.0,145.77 L365.5,144.79 L366.0,143.83 L366.5,142.87 L367.0,141.92 L367.5,140.97 L368.0,140.04 L368.5,139.12 L369.0,138.21 L369.5,137.31 L370.0,136.42 L370.5,135.55 L371.0,134.69 L371.5,133.84 L372.0,133.00 L372.5,132.18 L373.0,131.37 L373.5,130.58 L374.0,129.80 L374.5,129.04 L375.0,128.30 L375.5,127.57 L376.0,126.86 L376.5,126.17 L377.0,125.50 L377.5,124.85 L378.0,124.22 L378.5,123.61 L379.0,123.03 L379.5,122.47 L380.0,121.93 L380.5,121.43 L381.0,120.96 L381.5,120.52 L382.0,120.12 L382.5,119.75 L383.0,119.41 L383.5,119.11 L384.0,118.84 L384.5,118.60 L385.0,118.39 L385.5,118.21 L386.0,118.05 L386.5,117.67 L387.0,117.53 L387.5,117.40 L388.0,117.30 L388.5,117.33 L389.0,117.41 L389.5,117.53 L390.0,117.69 L390.5,117.87 L391.0,118.08 L391.5,118.29 L392.0,118.62 L392.5,118.88 L393.0,119.17 L393.5,119.48 L394.0,119.82 L394.5,120.17 L395.0,120.55 L395.5,120.93 L396.0,121.33 L396.5,121.74 L397.0,122.15 L397.5,122.58 L398.0,123.01 L398.5,123.45 L399.0,123.91 L399.5,124.37 L400.0,124.84 L400.5,125.31 L401.0,125.80 L401.5,126.30 L402.0,126.80 L402.5,127.32 L403.0,127.84 L403.5,128.38 L404.0,128.93 L404.5,129.49 L405.0,130.06 L405.5,130.65 L406.0,131.25 L406.5,131.87 L407.0,132.50 L407.5,133.14 L408.0,133.80 L408.5,134.47 L409.0,135.16 L409.5,135.86 L410.0,136.58 L410.5,137.32 L411.0,138.07 L411.5,138.84 L412.0,139.62 L412.5,140.41 L413.0,141.22 L413.5,142.04 L414.0,142.86 L414.5,143.68 L415.0,144.52 L415.5,145.35 L416.0,146.19 L416.5,147.04 L417.0,147.89 L417.5,148.74 L418.0,149.59 L418.5,150.45 L419.0,151.30 L419.5,152.16 L420.0,153.02 L420.5,153.88 L421.0,154.74 L421.5,155.59 L422.0,156.44 L422.5,157.27 L423.0,158.08 L423.5,158.87 L424.0,159.63 L424.5,160.35 L425.0,161.04 L425.5,161.69 L426.0,162.30 L426.5,162.86 L427.0,163.38 L427.5,163.85 L428.0,164.27 L428.5,164.64 L429.0,164.97 L429.5,165.26 L430.0,165.51 L430.5,165.73 L431.0,165.91 L431.5,166.06 L432.0,166.18 L432.5,166.29 L433.0,166.37 L433.5,166.43 L434.0,166.49 L434.5,166.54 L435.0,166.58 L435.5,166.62 L436.0,166.65 L436.5,166.68 L437.0,166.71 L437.5,166.73 L438.0,166.75 L438.5,166.76 L439.0,166.78 L439.5,166.78 L440.0,166.79 L440.5,166.79 L441.0,166.80 L441.5,166.80 L442.0,166.80 L442.5,166.80 L443.0,166.80 L443.5,166.80 L444.0,166.80 L444.5,166.80 L445.0,166.80 L445.5,166.80 L446.0,166.80 L446.5,166.80 L447.0,166.80 L447.5,166.80 L448.0,166.80 L448.5,166.80 L449.0,166.80 L449.5,166.80 L450.0,166.80 L450.5,166.80 L451.0,166.80 L451.5,166.80 L452.0,166.80 L452.5,166.80 L453.0,166.80 L453.5,166.80 L454.0,166.80 L454.5,166.80 L455.0,166.80 L455.5,166.80 L456.0,166.80 L456.5,166.80 L457.0,166.80 L457.5,166.80 L458.0,166.80 L458.5,166.80 L459.0,166.80 L459.5,166.80 L460.0,166.80 L460.5,166.80 L461.0,166.80 L461.5,166.80 L462.0,166.80 L462.5,166.80 L463.0,166.80 L463.5,166.80 L464.0,166.80 L464.5,166.80 L465.0,166.80 L465.5,166.80 L466.0,166.80 L466.5,166.80 L467.0,166.80 L467.5,166.80 L468.0,166.80 L468.5,166.80 L469.0,166.80 L469.5,166.80 L470.0,166.80 L470.5,166.80 L471.0,166.80 L471.5,166.80 L472.0,166.80 L472.5,166.80 L473.0,166.80 L473.5,166.80 L474.0,166.80 L474.5,166.80 L475.0,166.80 L475.5,166.80 L476.0,166.80 L476.5,166.80 L477.0,166.80 L477.5,166.80 L478.0,166.80 L478.5,166.80 L479.0,166.80 L479.5,166.80 L480.0,166.80 L480.5,166.80 L481.0,166.80 L481.5,166.80 L482.0,166.80 L482.5,166.80 L483.0,166.80 L483.5,166.80 L484.0,166.80 L484.5,166.80 L485.0,166.80 L485.5,166.80 L486.0,166.80 L486.5,166.80 L487.0,166.80 L487.5,166.80 L488.0,166.80 L488.5,166.80 L489.0,166.80 L489.5,166.80 L490.0,166.80 L490.5,166.80 L491.0,166.80 L491.5,166.80 L492.0,166.80 L492.5,166.80 L493.0,166.80 L493.5,166.80 L494.0,166.80 L494.5,166.80 L495.0,166.80 L495.5,166.80 L496.0,166.80 L496.5,166.80 L497.0,166.80 L497.5,166.80 L498.0,166.80 L498.5,166.80 L499.0,166.80 L499.5,166.80 L500.0,166.80 L500.5,166.80 L501.0,166.80 L501.5,166.80 L502.0,166.80 L502.5,166.80 L503.0,166.80 L503.5,166.80 L504.0,166.80 L504.5,166.80 L505.0,166.80 L505.5,166.80 L506.0,166.80 L506.5,166.80 L507.0,166.80 L507.5,166.80 L508.0,166.80 L508.5,166.80 L509.0,166.80 L509.5,166.80 L510.0,166.80 L510.5,166.80 L511.0,166.80 L511.5,166.80 L512.0,166.80 L512.5,166.80 L513.0,166.80 L513.5,166.80 L514.0,166.80 L514.5,166.80 L515.0,166.80 L515.5,166.80 L516.0,166.80 L516.5,166.80 L517.0,166.80 L517.5,166.80 L518.0,166.80 L518.5,166.80 L519.0,166.80 L519.5,166.80 L520.0,166.80 L520.5,166.80 L521.0,166.80 L521.5,166.80 L522.0,166.80 L522.5,166.80 L523.0,166.80 L523.5,166.80 L524.0,166.80 L524.5,166.80 L525.0,166.80" stroke="#d45050"/><path d="M63.0,166.80 L63.5,166.80 L64.0,166.80 L64.5,166.80 L65.0,166.80 L65.5,166.80 L66.0,166.80 L66.5,166.80 L67.0,166.80 L67.5,166.80 L68.0,166.80 L68.5,166.80 L69.0,166.80 L69.5,166.80 L70.0,166.80 L70.5,166.80 L71.0,166.80 L71.5,166.80 L72.0,166.80 L72.5,166.80 L73.0,166.80 L73.5,166.80 L74.0,166.80 L74.5,166.80 L75.0,166.80 L75.5,166.80 L76.0,166.80 L76.5,166.80 L77.0,166.80 L77.5,166.80 L78.0,166.80 L78.5,166.80 L79.0,166.80 L79.5,166.80 L80.0,166.80 L80.5,166.80 L81.0,166.80 L81.5,166.80 L82.0,166.80 L82.5,166.80 L83.0,166.80 L83.5,166.80 L84.0,166.80 L84.5,166.80 L85.0,166.80 L85.5,166.80 L86.0,166.80 L86.5,166.80 L87.0,166.80 L87.5,166.80 L88.0,166.80 L88.5,166.80 L89.0,166.80 L89.5,166.80 L90.0,166.80 L90.5,166.80 L91.0,166.80 L91.5,166.80 L92.0,166.80 L92.5,166.82 L93.0,166.89 L93.5,166.98 L94.0,167.08 L94.5,167.19 L95.0,167.30 L95.5,167.40 L96.0,167.51 L96.5,167.63 L97.0,167.75 L97.5,167.88 L98.0,168.02 L98.5,168.16 L99.0,168.30 L99.5,168.45 L100.0,168.60 L100.5,168.76 L101.0,168.92 L101.5,169.09 L102.0,169.27 L102.5,169.45 L103.0,169.64 L103.5,169.84 L104.0,170.05 L104.5,170.27 L105.0,170.50 L105.5,170.74 L106.0,171.00 L106.5,171.28 L107.0,171.57 L107.5,171.88 L108.0,172.19 L108.5,172.51 L109.0,172.84 L109.5,173.17 L110.0,173.50 L110.5,173.83 L111.0,174.17 L111.5,174.51 L112.0,174.86 L112.5,175.24 L113.0,175.60 L113.5,175.98 L114.0,176.36 L114.5,176.76 L115.0,177.18 L115.5,177.61 L116.0,178.06 L116.5,178.52 L117.0,179.01 L117.5,179.51 L118.0,180.03 L118.5,180.57 L119.0,181.13 L119.5,181.70 L120.0,182.28 L120.5,182.88 L121.0,183.49 L121.5,184.10 L122.0,184.72 L122.5,185.35 L123.0,185.97 L123.5,186.61 L124.0,187.24 L124.5,187.87 L125.0,188.51 L125.5,189.16 L126.0,189.81 L126.5,190.46 L127.0,191.13 L127.5,191.80 L128.0,192.47 L128.5,193.16 L129.0,193.84 L129.5,194.53 L130.0,195.22 L130.5,195.91 L131.0,196.60 L131.5,197.29 L132.0,197.97 L132.5,198.65 L133.0,199.33 L133.5,200.00 L134.0,200.68 L134.5,201.35 L135.0,202.03 L135.5,202.71 L136.0,203.40 L136.5,204.07 L137.0,204.75 L137.5,205.42 L138.0,206.07 L138.5,206.71 L139.0,207.34 L139.5,207.94 L140.0,208.53 L140.5,209.09 L141.0,209.63 L141.5,210.14 L142.0,210.64 L142.5,211.12 L143.0,211.58 L143.5,212.03 L144.0,212.46 L144.5,212.88 L145.0,213.29 L145.5,213.68 L146.0,214.06 L146.5,214.43 L147.0,214.79 L147.5,215.14 L148.0,215.48 L148.5,215.80 L149.0,216.12 L149.5,216.42 L150.0,216.71 L150.5,217.04 L151.0,217.30 L151.5,217.52 L152.0,217.70 L152.5,217.86 L153.0,218.02 L153.5,218.17 L154.0,218.31 L154.5,218.43 L155.0,218.52 L155.5,218.58 L156.0,218.60 L156.5,218.58 L157.0,218.53 L157.5,218.45 L158.0,218.35 L158.5,218.23 L159.0,218.09 L159.5,217.95 L160.0,217.54 L160.5,217.33 L161.0,217.10 L161.5,216.83 L162.0,216.54 L162.5,216.23 L163.0,215.89 L163.5,215.53 L164.0,215.14 L164.5,214.73 L165.0,214.30 L165.5,213.85 L166.0,213.37 L166.5,212.87 L167.0,212.36 L167.5,211.82 L168.0,211.27 L168.5,210.70 L169.0,210.10 L169.5,209.50 L170.0,208.88 L170.5,208.24 L171.0,207.58 L171.5,206.91 L172.0,206.22 L172.5,205.50 L173.0,204.77 L173.5,204.01 L174.0,203.22 L174.5,202.40 L175.0,201.55 L175.5,200.67 L176.0,199.74 L176.5,198.78 L177.0,197.78 L177.5,196.74 L178.0,195.67 L178.5,194.56 L179.0,193.42 L179.5,192.25 L180.0,191.05 L180.5,189.84 L181.0,188.62 L181.5,187.38 L182.0,186.13 L182.5,184.88 L183.0,183.63 L183.5,182.38 L184.0,181.14 L184.5,179.91 L185.0,178.69 L185.5,177.48 L186.0,176.27 L186.5,175.09 L187.0,173.91 L187.5,172.74 L188.0,171.59 L188.5,170.44 L189.0,169.31 L189.5,168.18 L190.0,167.07 L190.5,165.97 L191.0,164.88 L191.5,163.80 L192.0,162.74 L192.5,161.69 L193.0,160.66 L193.5,159.63 L194.0,158.62 L194.5,157.63 L195.0,156.64 L195.5,155.66 L196.0,154.70 L196.5,153.74 L197.0,152.78 L197.5,151.83 L198.0,150.88 L198.5,149.94 L199.0,149.00 L199.5,148.05 L200.0,147.11 L200.5,146.17 L201.0,145.22 L201.5,144.27 L202.0,143.31 L202.5,142.35 L203.0,141.39 L203.5,140.41 L204.0,139.43 L204.5,138.44 L205.0,137.44 L205.5,136.44 L206.0,135.43 L206.5,134.41 L207.0,133.39 L207.5,132.36 L208.0,131.32 L208.5,130.28 L209.0,129.24 L209.5,128.19 L210.0,127.14 L210.5,126.08 L211.0,125.02 L211.5,123.95 L212.0,122.88 L212.5,121.80 L213.0,120.72 L213.5,119.63 L214.0,118.53 L214.5,117.43 L215.0,116.32 L215.5,115.21 L216.0,114.09 L216.5,112.96 L217.0,111.83 L217.5,110.70 L218.0,109.57 L218.5,108.44 L219.0,107.31 L219.5,106.18 L220.0,105.06 L220.5,103.94 L221.0,102.83 L221.5,101.73 L222.0,100.64 L222.5,99.55 L223.0,98.48 L223.5,97.42 L224.0,96.37 L224.5,95.33 L225.0,94.30 L225.5,93.29 L226.0,92.29 L226.5,91.31 L227.0,90.35 L227.5,89.41 L228.0,88.50 L228.5,87.61 L229.0,86.75 L229.5,85.92 L230.0,85.12 L230.5,84.35 L231.0,83.61 L231.5,82.90 L232.0,82.23 L232.5,81.57 L233.0,80.95 L233.5,80.34 L234.0,79.76 L234.5,79.20 L235.0,78.65 L235.5,78.12 L236.0,77.60 L236.5,77.11 L237.0,76.63 L237.5,76.16 L238.0,75.72 L238.5,75.30 L239.0,74.90 L239.5,74.53 L240.0,74.19 L240.5,73.87 L241.0,73.58 L241.5,73.32 L242.0,73.08 L242.5,72.87 L243.0,72.67 L243.5,72.50 L244.0,72.35 L244.5,72.04 L245.0,71.93 L245.5,71.83 L246.0,71.75 L246.5,71.69 L247.0,71.64 L247.5,71.60 L248.0,71.56 L248.5,71.53 L249.0,71.51 L249.5,71.50 L250.0,71.52 L250.5,71.57 L251.0,72.06 L251.5,74.32 L252.0,77.72 L252.5,81.40 L253.0,84.65 L253.5,87.91 L254.0,91.33 L254.5,94.78 L255.0,98.14 L255.5,102.00 L256.0,107.10 L256.5,113.29 L257.0,120.14 L257.5,127.17 L258.0,133.95 L258.5,140.00 L259.0,145.71 L259.5,151.34 L260.0,156.30 L260.5,160.00 L261.0,162.82 L261.5,165.10 L262.0,166.20 L262.5,166.46 L263.0,166.65 L263.5,166.76 L264.0,166.80 L264.5,166.80 L265.0,166.80 L265.5,166.80 L266.0,166.80 L266.5,166.80 L267.0,166.80 L267.5,166.80 L268.0,166.80 L268.5,166.80 L269.0,166.80 L269.5,166.80 L270.0,166.80 L270.5,166.80 L271.0,166.80 L271.5,166.80 L272.0,166.80 L272.5,166.80 L273.0,166.80 L273.5,166.80 L274.0,166.80 L274.5,166.80 L275.0,166.80 L275.5,166.80 L276.0,166.80 L276.5,166.80 L277.0,166.80 L277.5,166.80 L278.0,166.80 L278.5,166.80 L279.0,166.80 L279.5,166.80 L280.0,166.80 L280.5,166.80 L281.0,166.80 L281.5,166.80 L282.0,166.80 L282.5,166.80 L283.0,166.80 L283.5,166.80 L284.0,166.80 L284.5,166.80 L285.0,166.80 L285.5,166.80 L286.0,166.80 L286.5,166.80 L287.0,166.80 L287.5,167.58 L288.0,170.11 L288.5,173.56 L289.0,179.30 L289.5,186.76 L290.0,196.25 L290.5,205.64 L291.0,215.08 L291.5,222.85 L292.0,229.21 L292.5,234.90 L293.0,240.36 L293.5,245.19 L294.0,248.93 L294.5,252.02 L295.0,254.42 L295.5,256.36 L296.0,256.59 L296.5,256.50 L297.0,256.35 L297.5,256.15 L298.0,255.91 L298.5,255.64 L299.0,255.36 L299.5,255.07 L300.0,254.58 L300.5,254.33 L301.0,254.04 L301.5,253.73 L302.0,253.38 L302.5,253.02 L303.0,252.64 L303.5,252.24 L304.0,251.81 L304.5,251.37 L305.0,250.91 L305.5,250.42 L306.0,249.92 L306.5,249.39 L307.0,248.85 L307.5,248.29 L308.0,247.71 L308.5,247.12 L309.0,246.52 L309.5,245.90 L310.0,245.27 L310.5,244.63 L311.0,243.98 L311.5,243.31 L312.0,242.63 L312.5,241.95 L313.0,241.25 L313.5,240.54 L314.0,239.81 L314.5,239.08 L315.0,238.34 L315.5,237.59 L316.0,236.83 L316.5,236.07 L317.0,235.30 L317.5,234.54 L318.0,233.78 L318.5,233.02 L319.0,232.26 L319.5,231.52 L320.0,230.78 L320.5,230.04 L321.0,229.31 L321.5,228.58 L322.0,227.85 L322.5,227.12 L323.0,226.38 L323.5,225.64 L324.0,224.88 L324.5,224.11 L325.0,223.33 L325.5,222.54 L326.0,221.73 L326.5,220.90 L327.0,220.06 L327.5,219.21 L328.0,218.34 L328.5,217.45 L329.0,216.55 L329.5,215.64 L330.0,214.71 L330.5,213.76 L331.0,212.80 L331.5,211.83 L332.0,210.84 L332.5,209.83 L333.0,208.80 L333.5,207.76 L334.0,206.71 L334.5,205.64 L335.0,204.56 L335.5,203.48 L336.0,202.38 L336.5,201.29 L337.0,200.19 L337.5,199.10 L338.0,198.01 L338.5,196.92 L339.0,195.85 L339.5,194.79 L340.0,193.74 L340.5,192.70 L341.0,191.68 L341.5,190.68 L342.0,189.69 L342.5,188.72 L343.0,187.76 L343.5,186.81 L344.0,185.87 L344.5,184.95 L345.0,184.03 L345.5,183.12 L346.0,182.21 L346.5,181.31 L347.0,180.41 L347.5,179.51 L348.0,178.62 L348.5,177.73 L349.0,176.84 L349.5,175.95 L350.0,175.07 L350.5,174.18 L351.0,173.30 L351.5,172.41 L352.0,171.53 L352.5,170.65 L353.0,169.76 L353.5,168.88 L354.0,168.00 L354.5,167.11 L355.0,166.23 L355.5,165.34 L356.0,164.45 L356.5,163.55 L357.0,162.65 L357.5,161.74 L358.0,160.82 L358.5,159.90 L359.0,158.96 L359.5,158.02 L360.0,157.08 L360.5,156.12 L361.0,155.16 L361.5,154.19 L362.0,153.22 L362.5,152.24 L363.0,151.26 L363.5,150.28 L364.0,149.30 L364.5,148.32 L365.0,147.34 L365.5,146.36 L366.0,145.38 L366.5,144.41 L367.0,143.45 L367.5,142.50 L368.0,141.55 L368.5,140.61 L369.0,139.69 L369.5,138.77 L370.0,137.87 L370.5,136.98 L371.0,136.10 L371.5,135.23 L372.0,134.37 L372.5,133.53 L373.0,132.70 L373.5,131.89 L374.0,131.09 L374.5,130.31 L375.0,129.54 L375.5,128.79 L376.0,128.06 L376.5,127.35 L377.0,126.65 L377.5,125.98 L378.0,125.32 L378.5,124.69 L379.0,124.07 L379.5,123.48 L380.0,122.91 L380.5,122.36 L381.0,121.84 L381.5,121.35 L382.0,120.88 L382.5,120.45 L383.0,120.04 L383.5,119.66 L384.0,119.32 L384.5,119.01 L385.0,118.73 L385.5,118.48 L386.0,118.27 L386.5,117.73 L387.0,117.55 L387.5,117.40 L388.0,117.30 L388.5,117.33 L389.0,117.41 L389.5,117.53 L390.0,117.69 L390.5,117.87 L391.0,118.08 L391.5,118.29 L392.0,118.62 L392.5,118.88 L393.0,119.17 L393.5,119.48 L394.0,119.82 L394.5,120.17 L395.0,120.55 L395.5,120.93 L396.0,121.33 L396.5,121.74 L397.0,122.15 L397.5,122.58 L398.0,123.01 L398.5,123.45 L399.0,123.91 L399.5,124.37 L400.0,124.84 L400.5,125.31 L401.0,125.80 L401.5,126.30 L402.0,126.80 L402.5,127.32 L403.0,127.84 L403.5,128.38 L404.0,128.93 L404.5,129.49 L405.0,130.06 L405.5,130.65 L406.0,131.25 L406.5,131.87 L407.0,132.50 L407.5,133.14 L408.0,133.80 L408.5,134.47 L409.0,135.16 L409.5,135.86 L410.0,136.58 L410.5,137.32 L411.0,138.07 L411.5,138.84 L412.0,139.62 L412.5,140.41 L413.0,141.22 L413.5,142.04 L414.0,142.86 L414.5,143.68 L415.0,144.52 L415.5,145.35 L416.0,146.19 L416.5,147.04 L417.0,147.89 L417.5,148.74 L418.0,149.59 L418.5,150.45 L419.0,151.30 L419.5,152.16 L420.0,153.02 L420.5,153.88 L421.0,154.74 L421.5,155.59 L422.0,156.44 L422.5,157.27 L423.0,158.08 L423.5,158.87 L424.0,159.63 L424.5,160.35 L425.0,161.04 L425.5,161.69 L426.0,162.30 L426.5,162.86 L427.0,163.38 L427.5,163.85 L428.0,164.27 L428.5,164.64 L429.0,164.97 L429.5,165.26 L430.0,165.51 L430.5,165.73 L431.0,165.91 L431.5,166.06 L432.0,166.18 L432.5,166.29 L433.0,166.37 L433.5,166.43 L434.0,166.49 L434.5,166.54 L435.0,166.58 L435.5,166.62 L436.0,166.65 L436.5,166.68 L437.0,166.71 L437.5,166.73 L438.0,166.75 L438.5,166.76 L439.0,166.78 L439.5,166.78 L440.0,166.79 L440.5,166.79 L441.0,166.80 L441.5,166.80 L442.0,166.80 L442.5,166.80 L443.0,166.80 L443.5,166.80 L444.0,166.80 L444.5,166.80 L445.0,166.80 L445.5,166.80 L446.0,166.80 L446.5,166.80 L447.0,166.80 L447.5,166.80 L448.0,166.80 L448.5,166.80 L449.0,166.80 L449.5,166.80 L450.0,166.80 L450.5,166.80 L451.0,166.80 L451.5,166.80 L452.0,166.80 L452.5,166.80 L453.0,166.80 L453.5,166.80 L454.0,166.80 L454.5,166.80 L455.0,166.80 L455.5,166.80 L456.0,166.80 L456.5,166.80 L457.0,166.80 L457.5,166.80 L458.0,166.80 L458.5,166.80 L459.0,166.80 L459.5,166.80 L460.0,166.80 L460.5,166.80 L461.0,166.80 L461.5,166.80 L462.0,166.80 L462.5,166.80 L463.0,166.80 L463.5,166.80 L464.0,166.80 L464.5,166.80 L465.0,166.80 L465.5,166.80 L466.0,166.80 L466.5,166.80 L467.0,166.80 L467.5,166.80 L468.0,166.80 L468.5,166.80 L469.0,166.80 L469.5,166.80 L470.0,166.80 L470.5,166.80 L471.0,166.80 L471.5,166.80 L472.0,166.80 L472.5,166.80 L473.0,166.80 L473.5,166.80 L474.0,166.80 L474.5,166.80 L475.0,166.80 L475.5,166.80 L476.0,166.80 L476.5,166.80 L477.0,166.80 L477.5,166.80 L478.0,166.80 L478.5,166.80 L479.0,166.80 L479.5,166.80 L480.0,166.80 L480.5,166.80 L481.0,166.80 L481.5,166.80 L482.0,166.80 L482.5,166.80 L483.0,166.80 L483.5,166.80 L484.0,166.80 L484.5,166.80 L485.0,166.80 L485.5,166.80 L486.0,166.80 L486.5,166.80 L487.0,166.80 L487.5,166.80 L488.0,166.80 L488.5,166.80 L489.0,166.80 L489.5,166.80 L490.0,166.80 L490.5,166.80 L491.0,166.80 L491.5,166.80 L492.0,166.80 L492.5,166.80 L493.0,166.80 L493.5,166.80 L494.0,166.80 L494.5,166.80 L495.0,166.80 L495.5,166.80 L496.0,166.80 L496.5,166.80 L497.0,166.80 L497.5,166.80 L498.0,166.80 L498.5,166.80 L499.0,166.80 L499.5,166.80 L500.0,166.80 L500.5,166.80 L501.0,166.80 L501.5,166.80 L502.0,166.80 L502.5,166.80 L503.0,166.80 L503.5,166.80 L504.0,166.80 L504.5,166.80 L505.0,166.80 L505.5,166.80 L506.0,166.80 L506.5,166.80 L507.0,166.80 L507.5,166.80 L508.0,166.80 L508.5,166.80 L509.0,166.80 L509.5,166.80 L510.0,166.80 L510.5,166.80 L511.0,166.80 L511.5,166.80 L512.0,166.80 L512.5,166.80 L513.0,166.80 L513.5,166.80 L514.0,166.80 L514.5,166.80 L515.0,166.80 L515.5,166.80 L516.0,166.80 L516.5,166.80 L517.0,166.80 L517.5,166.80 L518.0,166.80 L518.5,166.80 L519.0,166.80 L519.5,166.80 L520.0,166.80 L520.5,166.80 L521.0,166.80 L521.5,166.80 L522.0,166.80 L522.5,166.80 L523.0,166.80 L523.5,166.80 L524.0,166.80 L524.5,166.80 L525.0,166.80" stroke="#a040ff"/>
</g>

<rect x="63.0" y="20.05" width="462.29999999999995" height="294.45" fill="none" stroke="#1a1a1a" stroke-width="1.6"/>
<g font-size="19">
<text x="56.6" y="26.2" text-anchor="end" font-size="18.5">9</text><text x="56.6" y="74.4" text-anchor="end" font-size="18.5">6</text><text x="56.6" y="122.5" text-anchor="end" font-size="18.5">3</text><text x="56.6" y="171.6" text-anchor="end" font-size="18.5">0</text><text x="56.6" y="220.7" text-anchor="end" font-size="18.5">−3</text><text x="56.6" y="269.7" text-anchor="end" font-size="18.5">−6</text><text x="56.6" y="318.8" text-anchor="end" font-size="18.5">−9</text>
<text x="63.0" y="339.6" text-anchor="middle">−100</text><text x="155.5" y="339.6" text-anchor="middle">0</text><text x="248.9" y="339.6" text-anchor="middle">100</text><text x="341.4" y="339.6" text-anchor="middle">200</text><text x="434.3" y="339.6" text-anchor="middle">300</text><text x="527.3" y="339.6" text-anchor="middle">400</text>
</g>
<text x="296" y="360.5" font-size="17.9" text-anchor="middle">Thickness [μm]</text>
<text transform="translate(25.8,167.1) rotate(-90)" font-size="17.3" text-anchor="middle" textLength="176" lengthAdjust="spacingAndGlyphs">Charge density <tspan font-style="italic">ρ</tspan> [C/m³]</text>
<g font-size="14.1">
<rect x="380.2" y="215.6" width="125.6" height="85.8" fill="#fff" stroke="#222" stroke-width="1.3"/><path d="M385,225.6H400" stroke="#a040ff" stroke-width="1.7"/><text x="403" y="231.3">5.0 kV</text><path d="M444.5,225.6H459.5" stroke="#d45050" stroke-width="1.7"/><text x="462.5" y="231.3">4.5 kV</text><path d="M385,242.2H400" stroke="#2a2aff" stroke-width="1.7"/><text x="403" y="247.9">4.0 kV</text><path d="M444.5,242.2H459.5" stroke="#22c822" stroke-width="1.7"/><text x="462.5" y="247.9">3.5 kV</text><path d="M385,258.8H400" stroke="#a6a6a6" stroke-width="1.7"/><text x="403" y="264.5">3.0 kV</text><path d="M444.5,258.8H459.5" stroke="#ff44ff" stroke-width="1.7"/><text x="462.5" y="264.5">2.5 kV</text><path d="M385,275.4H400" stroke="#2a2a2a" stroke-width="1.7"/><text x="403" y="281.1">2.0 kV</text><path d="M444.5,275.4H459.5" stroke="#ffaa00" stroke-width="1.7"/><text x="462.5" y="281.1">1.5 kV</text><path d="M385,292.0H400" stroke="#ff2020" stroke-width="1.7"/><text x="403" y="297.7">1.0 kV</text>
</g>
</svg>
</body></html>
